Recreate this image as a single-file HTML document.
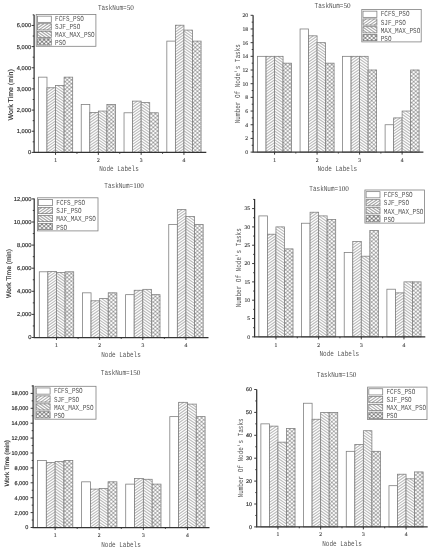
<!DOCTYPE html><html><head><meta charset="utf-8"><title>Figure</title><style>html,body{margin:0;padding:0;background:#fff}svg{display:block}text{fill:#2a2a2a;text-rendering:geometricPrecision}.m{fill:#555}.d{fill:#444;stroke:#444;stroke-width:.13px}.e{fill:#484848}.s{font-family:"Liberation Serif",serif}.a{font-family:"Liberation Sans",sans-serif;stroke:#2a2a2a;stroke-width:.16px}.m{font-family:"Liberation Mono",monospace}</style></head><body>
<svg width="431" height="550" viewBox="0 0 431 550">
<rect width="431" height="550" fill="#fff"/>
<g>
<rect x="38.43" y="77.16" width="8.56" height="75.24" fill="#fff"/>
<rect x="38.43" y="77.16" width="8.56" height="75.24" fill="none" stroke="#808080" stroke-width="0.8"/>
<rect x="46.99" y="87.76" width="8.56" height="64.64" fill="#fff"/>
<path d="M47.0,89.9L50.0,87.8M47.0,92.7L54.1,87.8M47.0,95.6L55.5,89.6M47.0,98.4L55.5,92.5M47.0,101.3L55.5,95.3M47.0,104.1L55.5,98.2M47.0,107.0L55.5,101.0M47.0,109.8L55.5,103.9M47.0,112.7L55.5,106.7M47.0,115.5L55.5,109.6M47.0,118.4L55.5,112.4M47.0,121.2L55.5,115.3M47.0,124.1L55.5,118.1M47.0,126.9L55.5,121.0M47.0,129.8L55.5,123.8M47.0,132.6L55.5,126.7M47.0,135.5L55.5,129.5M47.0,138.3L55.5,132.4M47.0,141.2L55.5,135.2M47.0,144.0L55.5,138.1M47.0,146.9L55.5,140.9M47.0,149.7L55.5,143.8M47.3,152.4L55.5,146.6M51.4,152.4L55.5,149.5M55.5,152.4L55.5,152.3" fill="none" stroke="#000" stroke-opacity="0.27" stroke-width="1.15"/>
<rect x="46.99" y="87.76" width="8.56" height="64.64" fill="none" stroke="#808080" stroke-width="0.8"/>
<rect x="55.55" y="85.43" width="8.56" height="66.97" fill="#fff"/>
<path d="M55.5,149.8L59.3,152.4M55.5,146.9L63.4,152.4M55.5,144.1L64.1,150.0M55.5,141.2L64.1,147.2M55.5,138.4L64.1,144.3M55.5,135.5L64.1,141.5M55.5,132.7L64.1,138.6M55.5,129.8L64.1,135.8M55.5,127.0L64.1,132.9M55.5,124.1L64.1,130.1M55.5,121.3L64.1,127.2M55.5,118.4L64.1,124.4M55.5,115.6L64.1,121.5M55.5,112.7L64.1,118.7M55.5,109.9L64.1,115.8M55.5,107.0L64.1,113.0M55.5,104.2L64.1,110.1M55.5,101.3L64.1,107.3M55.5,98.5L64.1,104.4M55.5,95.6L64.1,101.6M55.5,92.8L64.1,98.7M55.5,89.9L64.1,95.9M55.5,87.1L64.1,93.0M57.3,85.4L64.1,90.2M61.4,85.4L64.1,87.3" fill="none" stroke="#000" stroke-opacity="0.27" stroke-width="1.15"/>
<rect x="55.55" y="85.43" width="8.56" height="66.97" fill="none" stroke="#808080" stroke-width="0.8"/>
<rect x="64.11" y="77.16" width="8.56" height="75.24" fill="#fff"/>
<path d="M64.1,78.8L65.9,77.2M64.1,82.6L70.1,77.2M64.1,86.4L72.7,78.7M64.1,90.2L72.7,82.5M64.1,94.0L72.7,86.3M64.1,97.8L72.7,90.1M64.1,101.6L72.7,93.9M64.1,105.4L72.7,97.7M64.1,109.2L72.7,101.5M64.1,113.0L72.7,105.3M64.1,116.8L72.7,109.1M64.1,120.6L72.7,112.9M64.1,124.4L72.7,116.7M64.1,128.2L72.7,120.5M64.1,132.0L72.7,124.3M64.1,135.8L72.7,128.1M64.1,139.6L72.7,131.9M64.1,143.4L72.7,135.7M64.1,147.2L72.7,139.5M64.1,151.0L72.7,143.3M66.8,152.4L72.7,147.1M71.0,152.4L72.7,150.9" fill="none" stroke="#000" stroke-opacity="0.235" stroke-width="1.15"/><path d="M64.1,149.2L67.6,152.4M64.1,145.4L71.8,152.4M64.1,141.6L72.7,149.3M64.1,137.8L72.7,145.5M64.1,134.0L72.7,141.7M64.1,130.2L72.7,137.9M64.1,126.4L72.7,134.1M64.1,122.6L72.7,130.3M64.1,118.8L72.7,126.5M64.1,115.0L72.7,122.7M64.1,111.2L72.7,118.9M64.1,107.4L72.7,115.1M64.1,103.6L72.7,111.3M64.1,99.8L72.7,107.5M64.1,96.0L72.7,103.7M64.1,92.2L72.7,99.9M64.1,88.4L72.7,96.1M64.1,84.6L72.7,92.3M64.1,80.8L72.7,88.5M64.3,77.2L72.7,84.7M68.5,77.2L72.7,80.9" fill="none" stroke="#000" stroke-opacity="0.235" stroke-width="1.15"/>
<rect x="64.11" y="77.16" width="8.56" height="75.24" fill="none" stroke="#808080" stroke-width="0.8"/>
<rect x="81.23" y="104.51" width="8.56" height="47.89" fill="#fff"/>
<rect x="81.23" y="104.51" width="8.56" height="47.89" fill="none" stroke="#808080" stroke-width="0.8"/>
<rect x="89.79" y="112.57" width="8.56" height="39.83" fill="#fff"/>
<path d="M89.8,114.3L92.3,112.6M89.8,117.1L96.4,112.6M89.8,120.0L98.3,114.0M89.8,122.8L98.3,116.9M89.8,125.7L98.3,119.7M89.8,128.5L98.3,122.6M89.8,131.4L98.3,125.4M89.8,134.2L98.3,128.3M89.8,137.1L98.3,131.1M89.8,139.9L98.3,134.0M89.8,142.8L98.3,136.8M89.8,145.6L98.3,139.7M89.8,148.5L98.3,142.5M89.8,151.3L98.3,145.4M92.4,152.4L98.3,148.2M96.5,152.4L98.3,151.1" fill="none" stroke="#000" stroke-opacity="0.27" stroke-width="1.15"/>
<rect x="89.79" y="112.57" width="8.56" height="39.83" fill="none" stroke="#808080" stroke-width="0.8"/>
<rect x="98.35" y="111.08" width="8.56" height="41.32" fill="#fff"/>
<path d="M98.3,151.0L100.3,152.4M98.3,148.2L104.4,152.4M98.3,145.3L106.9,151.3M98.3,142.5L106.9,148.4M98.3,139.6L106.9,145.6M98.3,136.8L106.9,142.7M98.3,133.9L106.9,139.9M98.3,131.1L106.9,137.0M98.3,128.2L106.9,134.2M98.3,125.4L106.9,131.3M98.3,122.5L106.9,128.5M98.3,119.7L106.9,125.6M98.3,116.8L106.9,122.8M98.3,114.0L106.9,119.9M98.3,111.1L106.9,117.1M102.4,111.1L106.9,114.2M106.5,111.1L106.9,111.4" fill="none" stroke="#000" stroke-opacity="0.27" stroke-width="1.15"/>
<rect x="98.35" y="111.08" width="8.56" height="41.32" fill="none" stroke="#808080" stroke-width="0.8"/>
<rect x="106.91" y="104.51" width="8.56" height="47.89" fill="#fff"/>
<path d="M106.9,104.7L107.1,104.5M106.9,108.5L111.3,104.5M106.9,112.3L115.5,104.5M106.9,116.1L115.5,108.3M106.9,119.9L115.5,112.1M106.9,123.7L115.5,115.9M106.9,127.5L115.5,119.7M106.9,131.3L115.5,123.5M106.9,135.1L115.5,127.3M106.9,138.9L115.5,131.1M106.9,142.7L115.5,134.9M106.9,146.5L115.5,138.7M106.9,150.3L115.5,142.5M108.8,152.4L115.5,146.3M113.0,152.4L115.5,150.1" fill="none" stroke="#000" stroke-opacity="0.235" stroke-width="1.15"/><path d="M106.9,149.9L109.6,152.4M106.9,146.1L113.8,152.4M106.9,142.3L115.5,150.1M106.9,138.5L115.5,146.3M106.9,134.7L115.5,142.5M106.9,130.9L115.5,138.7M106.9,127.1L115.5,134.9M106.9,123.3L115.5,131.1M106.9,119.5L115.5,127.3M106.9,115.7L115.5,123.5M106.9,111.9L115.5,119.7M106.9,108.1L115.5,115.9M107.1,104.5L115.5,112.1M111.3,104.5L115.5,108.3" fill="none" stroke="#000" stroke-opacity="0.235" stroke-width="1.15"/>
<rect x="106.91" y="104.51" width="8.56" height="47.89" fill="none" stroke="#808080" stroke-width="0.8"/>
<rect x="124.03" y="112.78" width="8.56" height="39.62" fill="#fff"/>
<rect x="124.03" y="112.78" width="8.56" height="39.62" fill="none" stroke="#808080" stroke-width="0.8"/>
<rect x="132.59" y="101.12" width="8.56" height="51.28" fill="#fff"/>
<path d="M132.6,101.6L133.3,101.1M132.6,104.5L137.4,101.1M132.6,107.3L141.1,101.4M132.6,110.2L141.1,104.2M132.6,113.0L141.1,107.1M132.6,115.9L141.1,109.9M132.6,118.7L141.1,112.8M132.6,121.6L141.1,115.6M132.6,124.4L141.1,118.5M132.6,127.3L141.1,121.3M132.6,130.1L141.1,124.2M132.6,133.0L141.1,127.0M132.6,135.8L141.1,129.9M132.6,138.7L141.1,132.7M132.6,141.5L141.1,135.6M132.6,144.4L141.1,138.4M132.6,147.2L141.1,141.3M132.6,150.1L141.1,144.1M133.4,152.4L141.1,147.0M137.5,152.4L141.1,149.8" fill="none" stroke="#000" stroke-opacity="0.27" stroke-width="1.15"/>
<rect x="132.59" y="101.12" width="8.56" height="51.28" fill="none" stroke="#808080" stroke-width="0.8"/>
<rect x="141.15" y="102.60" width="8.56" height="49.80" fill="#fff"/>
<path d="M141.1,152.3L141.3,152.4M141.1,149.4L145.4,152.4M141.1,146.6L149.5,152.4M141.1,143.7L149.7,149.7M141.1,140.9L149.7,146.8M141.1,138.0L149.7,144.0M141.1,135.2L149.7,141.1M141.1,132.3L149.7,138.3M141.1,129.5L149.7,135.4M141.1,126.6L149.7,132.6M141.1,123.8L149.7,129.7M141.1,120.9L149.7,126.9M141.1,118.1L149.7,124.0M141.1,115.2L149.7,121.2M141.1,112.4L149.7,118.3M141.1,109.5L149.7,115.5M141.1,106.7L149.7,112.6M141.1,103.8L149.7,109.8M143.5,102.6L149.7,106.9M147.6,102.6L149.7,104.1" fill="none" stroke="#000" stroke-opacity="0.27" stroke-width="1.15"/>
<rect x="141.15" y="102.60" width="8.56" height="49.80" fill="none" stroke="#808080" stroke-width="0.8"/>
<rect x="149.71" y="112.78" width="8.56" height="39.62" fill="#fff"/>
<path d="M149.7,115.3L152.5,112.8M149.7,119.1L156.7,112.8M149.7,122.9L158.3,115.2M149.7,126.7L158.3,119.0M149.7,130.5L158.3,122.8M149.7,134.3L158.3,126.6M149.7,138.1L158.3,130.4M149.7,141.9L158.3,134.2M149.7,145.7L158.3,138.0M149.7,149.5L158.3,141.8M150.8,152.4L158.3,145.6M155.0,152.4L158.3,149.4" fill="none" stroke="#000" stroke-opacity="0.235" stroke-width="1.15"/><path d="M149.7,150.7L151.6,152.4M149.7,146.9L155.8,152.4M149.7,143.1L158.3,150.8M149.7,139.3L158.3,147.0M149.7,135.5L158.3,143.2M149.7,131.7L158.3,139.4M149.7,127.9L158.3,135.6M149.7,124.1L158.3,131.8M149.7,120.3L158.3,128.0M149.7,116.5L158.3,124.2M149.9,112.8L158.3,120.4M154.1,112.8L158.3,116.6" fill="none" stroke="#000" stroke-opacity="0.235" stroke-width="1.15"/>
<rect x="149.71" y="112.78" width="8.56" height="39.62" fill="none" stroke="#808080" stroke-width="0.8"/>
<rect x="166.83" y="41.12" width="8.56" height="111.28" fill="#fff"/>
<rect x="166.83" y="41.12" width="8.56" height="111.28" fill="none" stroke="#808080" stroke-width="0.8"/>
<rect x="175.39" y="25.22" width="8.56" height="127.18" fill="#fff"/>
<path d="M175.4,26.3L176.9,25.2M175.4,29.1L181.0,25.2M175.4,32.0L183.9,26.0M175.4,34.8L183.9,28.9M175.4,37.7L183.9,31.7M175.4,40.5L183.9,34.6M175.4,43.4L183.9,37.4M175.4,46.2L183.9,40.3M175.4,49.1L183.9,43.1M175.4,51.9L183.9,46.0M175.4,54.8L183.9,48.8M175.4,57.6L183.9,51.7M175.4,60.5L183.9,54.5M175.4,63.3L183.9,57.4M175.4,66.2L183.9,60.2M175.4,69.0L183.9,63.1M175.4,71.9L183.9,65.9M175.4,74.7L183.9,68.8M175.4,77.6L183.9,71.6M175.4,80.4L183.9,74.5M175.4,83.3L183.9,77.3M175.4,86.1L183.9,80.2M175.4,89.0L183.9,83.0M175.4,91.8L183.9,85.9M175.4,94.7L183.9,88.7M175.4,97.5L183.9,91.6M175.4,100.4L183.9,94.4M175.4,103.2L183.9,97.3M175.4,106.1L183.9,100.1M175.4,108.9L183.9,103.0M175.4,111.8L183.9,105.8M175.4,114.6L183.9,108.7M175.4,117.5L183.9,111.5M175.4,120.3L183.9,114.4M175.4,123.2L183.9,117.2M175.4,126.0L183.9,120.1M175.4,128.9L183.9,122.9M175.4,131.7L183.9,125.8M175.4,134.6L183.9,128.6M175.4,137.4L183.9,131.5M175.4,140.3L183.9,134.3M175.4,143.1L183.9,137.2M175.4,146.0L183.9,140.0M175.4,148.8L183.9,142.9M175.4,151.7L183.9,145.7M178.5,152.4L183.9,148.6M182.6,152.4L183.9,151.4" fill="none" stroke="#000" stroke-opacity="0.27" stroke-width="1.15"/>
<rect x="175.39" y="25.22" width="8.56" height="127.18" fill="none" stroke="#808080" stroke-width="0.8"/>
<rect x="183.95" y="30.10" width="8.56" height="122.30" fill="#fff"/>
<path d="M183.9,150.7L186.4,152.4M183.9,147.8L190.5,152.4M183.9,145.0L192.5,150.9M183.9,142.1L192.5,148.1M183.9,139.3L192.5,145.2M183.9,136.4L192.5,142.4M183.9,133.6L192.5,139.5M183.9,130.7L192.5,136.7M183.9,127.9L192.5,133.8M183.9,125.0L192.5,131.0M183.9,122.2L192.5,128.1M183.9,119.3L192.5,125.3M183.9,116.5L192.5,122.4M183.9,113.6L192.5,119.6M183.9,110.8L192.5,116.7M183.9,107.9L192.5,113.9M183.9,105.1L192.5,111.0M183.9,102.2L192.5,108.2M183.9,99.4L192.5,105.3M183.9,96.5L192.5,102.5M183.9,93.7L192.5,99.6M183.9,90.8L192.5,96.8M183.9,88.0L192.5,93.9M183.9,85.1L192.5,91.1M183.9,82.3L192.5,88.2M183.9,79.4L192.5,85.4M183.9,76.6L192.5,82.5M183.9,73.7L192.5,79.7M183.9,70.9L192.5,76.8M183.9,68.0L192.5,74.0M183.9,65.2L192.5,71.1M183.9,62.3L192.5,68.3M183.9,59.5L192.5,65.4M183.9,56.6L192.5,62.6M183.9,53.8L192.5,59.7M183.9,50.9L192.5,56.9M183.9,48.1L192.5,54.0M183.9,45.2L192.5,51.2M183.9,42.4L192.5,48.3M183.9,39.5L192.5,45.5M183.9,36.7L192.5,42.6M183.9,33.8L192.5,39.8M183.9,31.0L192.5,36.9M186.8,30.1L192.5,34.1M190.9,30.1L192.5,31.2" fill="none" stroke="#000" stroke-opacity="0.27" stroke-width="1.15"/>
<rect x="183.95" y="30.10" width="8.56" height="122.30" fill="none" stroke="#808080" stroke-width="0.8"/>
<rect x="192.51" y="41.12" width="8.56" height="111.28" fill="#fff"/>
<path d="M192.5,42.4L193.9,41.1M192.5,46.2L198.1,41.1M192.5,50.0L201.1,42.3M192.5,53.8L201.1,46.1M192.5,57.6L201.1,49.9M192.5,61.4L201.1,53.7M192.5,65.2L201.1,57.5M192.5,69.0L201.1,61.3M192.5,72.8L201.1,65.1M192.5,76.6L201.1,68.9M192.5,80.4L201.1,72.7M192.5,84.2L201.1,76.5M192.5,88.0L201.1,80.3M192.5,91.8L201.1,84.1M192.5,95.6L201.1,87.9M192.5,99.4L201.1,91.7M192.5,103.2L201.1,95.5M192.5,107.0L201.1,99.3M192.5,110.8L201.1,103.1M192.5,114.6L201.1,106.9M192.5,118.4L201.1,110.7M192.5,122.2L201.1,114.5M192.5,126.0L201.1,118.3M192.5,129.8L201.1,122.1M192.5,133.6L201.1,125.9M192.5,137.4L201.1,129.7M192.5,141.2L201.1,133.5M192.5,145.0L201.1,137.3M192.5,148.8L201.1,141.1M192.8,152.4L201.1,144.9M197.0,152.4L201.1,148.7" fill="none" stroke="#000" stroke-opacity="0.235" stroke-width="1.15"/><path d="M192.5,151.4L193.6,152.4M192.5,147.6L197.8,152.4M192.5,143.8L201.1,151.5M192.5,140.0L201.1,147.7M192.5,136.2L201.1,143.9M192.5,132.4L201.1,140.1M192.5,128.6L201.1,136.3M192.5,124.8L201.1,132.5M192.5,121.0L201.1,128.7M192.5,117.2L201.1,124.9M192.5,113.4L201.1,121.1M192.5,109.6L201.1,117.3M192.5,105.8L201.1,113.5M192.5,102.0L201.1,109.7M192.5,98.2L201.1,105.9M192.5,94.4L201.1,102.1M192.5,90.6L201.1,98.3M192.5,86.8L201.1,94.5M192.5,83.0L201.1,90.7M192.5,79.2L201.1,86.9M192.5,75.4L201.1,83.1M192.5,71.6L201.1,79.3M192.5,67.8L201.1,75.5M192.5,64.0L201.1,71.7M192.5,60.2L201.1,67.9M192.5,56.4L201.1,64.1M192.5,52.6L201.1,60.3M192.5,48.8L201.1,56.5M192.5,45.0L201.1,52.7M192.5,41.2L201.1,48.9M196.7,41.1L201.1,45.1M200.9,41.1L201.1,41.3" fill="none" stroke="#000" stroke-opacity="0.235" stroke-width="1.15"/>
<rect x="192.51" y="41.12" width="8.56" height="111.28" fill="none" stroke="#808080" stroke-width="0.8"/>
<path d="M34.10,14.80 V152.40 H206.30" fill="none" stroke="#333" stroke-width="1.25"/>
<path d="M31.60,152.40 H34.10 M32.70,141.82 H34.10 M31.60,131.24 H34.10 M32.70,120.66 H34.10 M31.60,110.08 H34.10 M32.70,99.50 H34.10 M31.60,88.92 H34.10 M32.70,78.34 H34.10 M31.60,67.76 H34.10 M32.70,57.18 H34.10 M31.60,46.60 H34.10 M32.70,36.02 H34.10 M31.60,25.44 H34.10 M32.70,14.86 H34.10 M55.55,152.40 V154.90 M76.95,152.40 V153.80 M98.35,152.40 V154.90 M119.75,152.40 V153.80 M141.15,152.40 V154.90 M162.55,152.40 V153.80 M183.95,152.40 V154.90" fill="none" stroke="#333" stroke-width="0.95"/>
<text class="a" x="31.10" y="154.35" font-size="5.7" text-anchor="end">0</text>
<text class="a" x="31.10" y="133.19" font-size="5.7" text-anchor="end">1,000</text>
<text class="a" x="31.10" y="112.03" font-size="5.7" text-anchor="end">2,000</text>
<text class="a" x="31.10" y="90.87" font-size="5.7" text-anchor="end">3,000</text>
<text class="a" x="31.10" y="69.71" font-size="5.7" text-anchor="end">4,000</text>
<text class="a" x="31.10" y="48.55" font-size="5.7" text-anchor="end">5,000</text>
<text class="a" x="31.10" y="27.39" font-size="5.7" text-anchor="end">6,000</text>
<text class="s d" x="54.15" y="161.60" font-size="5.60">1</text>
<text class="s d" x="96.95" y="161.60" font-size="5.60">2</text>
<text class="s d" x="139.75" y="161.60" font-size="5.60">3</text>
<text class="s d" x="182.55" y="161.60" font-size="5.60">4</text>
<text x="99.20" y="170.70"><tspan class="m" font-size="7.70" textLength="39.60" lengthAdjust="spacingAndGlyphs">Node Labels</tspan></text>
<text x="97.90" y="9.60"><tspan class="m" font-size="7.70" textLength="28.80" lengthAdjust="spacingAndGlyphs">TaskNum=</tspan><tspan class="s e" font-size="7.20">50</tspan></text>
<text class="a" transform="translate(13.20,94.80) rotate(-90)" font-size="7.0" text-anchor="middle">Work Time (min)</text>
<rect x="36.20" y="14.50" width="59.70" height="31.80" fill="#fff" stroke="#808080" stroke-width="0.8"/>
<rect x="37.40" y="16.15" width="13.9" height="6.20" fill="#fff"/>

<rect x="37.40" y="16.15" width="13.9" height="6.20" fill="none" stroke="#7a7a7a" stroke-width="0.75"/>
<text x="55.10" y="21.38"><tspan class="m" font-size="7.70" textLength="28.80" lengthAdjust="spacingAndGlyphs">FCFS_PSO</tspan></text>
<rect x="37.40" y="23.72" width="13.9" height="6.20" fill="#fff"/>
<path d="M37.4,25.3L39.7,23.7M37.4,28.2L43.8,23.7M39.0,29.9L47.9,23.7M43.1,29.9L51.3,24.2M47.2,29.9L51.3,27.0M51.3,29.9L51.3,29.9" fill="none" stroke="#000" stroke-opacity="0.34" stroke-width="1.15"/>
<rect x="37.40" y="23.72" width="13.9" height="6.20" fill="none" stroke="#7a7a7a" stroke-width="0.75"/>
<text x="55.10" y="29.32"><tspan class="m" font-size="7.70" textLength="25.20" lengthAdjust="spacingAndGlyphs">SJF_PSO</tspan></text>
<rect x="37.40" y="31.28" width="13.9" height="6.20" fill="#fff"/>
<path d="M37.4,37.4L37.5,37.5M37.4,34.5L41.6,37.5M37.4,31.7L45.7,37.5M40.9,31.3L49.8,37.5M45.0,31.3L51.3,35.7M49.1,31.3L51.3,32.8" fill="none" stroke="#000" stroke-opacity="0.34" stroke-width="1.15"/>
<rect x="37.40" y="31.28" width="13.9" height="6.20" fill="none" stroke="#7a7a7a" stroke-width="0.75"/>
<text x="55.10" y="37.27"><tspan class="m" font-size="7.70" textLength="39.60" lengthAdjust="spacingAndGlyphs">MAX_MAX_PSO</tspan></text>
<rect x="37.40" y="38.85" width="13.9" height="6.20" fill="#fff"/>
<path d="M37.4,42.2L41.1,38.8M38.4,45.0L45.3,38.8M42.6,45.0L49.5,38.8M46.8,45.0L51.3,41.0M51.0,45.0L51.3,44.8" fill="none" stroke="#000" stroke-opacity="0.34" stroke-width="1.15"/><path d="M37.4,41.4L41.4,45.0M38.7,38.8L45.6,45.0M42.9,38.8L49.8,45.0M47.1,38.8L51.3,42.6" fill="none" stroke="#000" stroke-opacity="0.34" stroke-width="1.15"/>
<rect x="37.40" y="38.85" width="13.9" height="6.20" fill="none" stroke="#7a7a7a" stroke-width="0.75"/>
<text x="55.10" y="45.22"><tspan class="m" font-size="7.70" textLength="10.80" lengthAdjust="spacingAndGlyphs">PSO</tspan></text>
</g>
<g>
<rect x="257.55" y="56.34" width="8.50" height="95.76" fill="#fff"/>
<rect x="257.55" y="56.34" width="8.50" height="95.76" fill="none" stroke="#808080" stroke-width="0.8"/>
<rect x="266.06" y="56.34" width="8.50" height="95.76" fill="#fff"/>
<path d="M266.1,57.3L267.4,56.3M266.1,60.2L271.5,56.3M266.1,63.0L274.6,57.1M266.1,65.9L274.6,59.9M266.1,68.7L274.6,62.8M266.1,71.6L274.6,65.6M266.1,74.4L274.6,68.5M266.1,77.3L274.6,71.3M266.1,80.1L274.6,74.2M266.1,83.0L274.6,77.0M266.1,85.8L274.6,79.9M266.1,88.7L274.6,82.7M266.1,91.5L274.6,85.6M266.1,94.4L274.6,88.4M266.1,97.2L274.6,91.3M266.1,100.1L274.6,94.1M266.1,102.9L274.6,97.0M266.1,105.8L274.6,99.8M266.1,108.6L274.6,102.7M266.1,111.5L274.6,105.5M266.1,114.3L274.6,108.4M266.1,117.2L274.6,111.2M266.1,120.0L274.6,114.1M266.1,122.9L274.6,116.9M266.1,125.7L274.6,119.8M266.1,128.6L274.6,122.6M266.1,131.4L274.6,125.5M266.1,134.3L274.6,128.3M266.1,137.1L274.6,131.2M266.1,140.0L274.6,134.0M266.1,142.8L274.6,136.9M266.1,145.7L274.6,139.7M266.1,148.5L274.6,142.6M266.1,151.4L274.6,145.4M269.1,152.1L274.6,148.3M273.2,152.1L274.6,151.1" fill="none" stroke="#000" stroke-opacity="0.27" stroke-width="1.15"/>
<rect x="266.06" y="56.34" width="8.50" height="95.76" fill="none" stroke="#808080" stroke-width="0.8"/>
<rect x="274.56" y="56.34" width="8.50" height="95.76" fill="#fff"/>
<path d="M274.6,151.0L276.2,152.1M274.6,148.1L280.3,152.1M274.6,145.3L283.1,151.2M274.6,142.4L283.1,148.3M274.6,139.6L283.1,145.5M274.6,136.7L283.1,142.6M274.6,133.9L283.1,139.8M274.6,131.0L283.1,136.9M274.6,128.2L283.1,134.1M274.6,125.3L283.1,131.2M274.6,122.5L283.1,128.4M274.6,119.6L283.1,125.5M274.6,116.8L283.1,122.7M274.6,113.9L283.1,119.8M274.6,111.1L283.1,117.0M274.6,108.2L283.1,114.1M274.6,105.4L283.1,111.3M274.6,102.5L283.1,108.4M274.6,99.7L283.1,105.6M274.6,96.8L283.1,102.7M274.6,94.0L283.1,99.9M274.6,91.1L283.1,97.0M274.6,88.3L283.1,94.2M274.6,85.4L283.1,91.3M274.6,82.6L283.1,88.5M274.6,79.7L283.1,85.6M274.6,76.9L283.1,82.8M274.6,74.0L283.1,79.9M274.6,71.2L283.1,77.1M274.6,68.3L283.1,74.2M274.6,65.5L283.1,71.4M274.6,62.6L283.1,68.5M274.6,59.8L283.1,65.7M274.6,56.9L283.1,62.8M277.9,56.3L283.1,60.0M282.0,56.3L283.1,57.1" fill="none" stroke="#000" stroke-opacity="0.27" stroke-width="1.15"/>
<rect x="274.56" y="56.34" width="8.50" height="95.76" fill="none" stroke="#808080" stroke-width="0.8"/>
<rect x="283.06" y="63.18" width="8.50" height="88.92" fill="#fff"/>
<path d="M283.1,66.9L287.2,63.2M283.1,70.7L291.4,63.2M283.1,74.5L291.6,66.8M283.1,78.3L291.6,70.6M283.1,82.1L291.6,74.4M283.1,85.9L291.6,78.2M283.1,89.7L291.6,82.0M283.1,93.5L291.6,85.8M283.1,97.3L291.6,89.6M283.1,101.1L291.6,93.4M283.1,104.9L291.6,97.2M283.1,108.7L291.6,101.0M283.1,112.5L291.6,104.8M283.1,116.3L291.6,108.6M283.1,120.1L291.6,112.4M283.1,123.9L291.6,116.2M283.1,127.7L291.6,120.0M283.1,131.5L291.6,123.8M283.1,135.3L291.6,127.6M283.1,139.1L291.6,131.4M283.1,142.9L291.6,135.2M283.1,146.7L291.6,139.0M283.1,150.5L291.6,142.8M285.5,152.1L291.6,146.6M289.7,152.1L291.6,150.4" fill="none" stroke="#000" stroke-opacity="0.235" stroke-width="1.15"/><path d="M283.1,149.7L285.7,152.1M283.1,145.9L289.9,152.1M283.1,142.1L291.6,149.8M283.1,138.3L291.6,146.0M283.1,134.5L291.6,142.2M283.1,130.7L291.6,138.4M283.1,126.9L291.6,134.6M283.1,123.1L291.6,130.8M283.1,119.3L291.6,127.0M283.1,115.5L291.6,123.2M283.1,111.7L291.6,119.4M283.1,107.9L291.6,115.6M283.1,104.1L291.6,111.8M283.1,100.3L291.6,108.0M283.1,96.5L291.6,104.2M283.1,92.7L291.6,100.4M283.1,88.9L291.6,96.6M283.1,85.1L291.6,92.8M283.1,81.3L291.6,89.0M283.1,77.5L291.6,85.2M283.1,73.7L291.6,81.4M283.1,69.9L291.6,77.6M283.1,66.1L291.6,73.8M284.0,63.2L291.6,70.0M288.2,63.2L291.6,66.2" fill="none" stroke="#000" stroke-opacity="0.235" stroke-width="1.15"/>
<rect x="283.06" y="63.18" width="8.50" height="88.92" fill="none" stroke="#808080" stroke-width="0.8"/>
<rect x="300.07" y="28.98" width="8.50" height="123.12" fill="#fff"/>
<rect x="300.07" y="28.98" width="8.50" height="123.12" fill="none" stroke="#808080" stroke-width="0.8"/>
<rect x="308.58" y="35.82" width="8.50" height="116.28" fill="#fff"/>
<path d="M308.6,36.3L309.3,35.8M308.6,39.2L313.4,35.8M308.6,42.0L317.1,36.1M308.6,44.9L317.1,38.9M308.6,47.7L317.1,41.8M308.6,50.6L317.1,44.6M308.6,53.4L317.1,47.5M308.6,56.3L317.1,50.3M308.6,59.1L317.1,53.2M308.6,62.0L317.1,56.0M308.6,64.8L317.1,58.9M308.6,67.7L317.1,61.7M308.6,70.5L317.1,64.6M308.6,73.4L317.1,67.4M308.6,76.2L317.1,70.3M308.6,79.1L317.1,73.1M308.6,81.9L317.1,76.0M308.6,84.8L317.1,78.8M308.6,87.6L317.1,81.7M308.6,90.5L317.1,84.5M308.6,93.3L317.1,87.4M308.6,96.2L317.1,90.2M308.6,99.0L317.1,93.1M308.6,101.9L317.1,95.9M308.6,104.7L317.1,98.8M308.6,107.6L317.1,101.6M308.6,110.4L317.1,104.5M308.6,113.3L317.1,107.3M308.6,116.1L317.1,110.2M308.6,119.0L317.1,113.0M308.6,121.8L317.1,115.9M308.6,124.7L317.1,118.7M308.6,127.5L317.1,121.6M308.6,130.4L317.1,124.4M308.6,133.2L317.1,127.3M308.6,136.1L317.1,130.1M308.6,138.9L317.1,133.0M308.6,141.8L317.1,135.8M308.6,144.6L317.1,138.7M308.6,147.5L317.1,141.5M308.6,150.3L317.1,144.4M310.1,152.1L317.1,147.2M314.2,152.1L317.1,150.1" fill="none" stroke="#000" stroke-opacity="0.27" stroke-width="1.15"/>
<rect x="308.58" y="35.82" width="8.50" height="116.28" fill="none" stroke="#808080" stroke-width="0.8"/>
<rect x="317.08" y="42.66" width="8.50" height="109.44" fill="#fff"/>
<path d="M317.1,152.0L317.2,152.1M317.1,149.2L321.3,152.1M317.1,146.3L325.4,152.1M317.1,143.5L325.6,149.4M317.1,140.6L325.6,146.5M317.1,137.8L325.6,143.7M317.1,134.9L325.6,140.8M317.1,132.1L325.6,138.0M317.1,129.2L325.6,135.1M317.1,126.4L325.6,132.3M317.1,123.5L325.6,129.4M317.1,120.7L325.6,126.6M317.1,117.8L325.6,123.7M317.1,115.0L325.6,120.9M317.1,112.1L325.6,118.0M317.1,109.3L325.6,115.2M317.1,106.4L325.6,112.3M317.1,103.6L325.6,109.5M317.1,100.7L325.6,106.6M317.1,97.9L325.6,103.8M317.1,95.0L325.6,100.9M317.1,92.2L325.6,98.1M317.1,89.3L325.6,95.2M317.1,86.5L325.6,92.4M317.1,83.6L325.6,89.5M317.1,80.8L325.6,86.7M317.1,77.9L325.6,83.8M317.1,75.1L325.6,81.0M317.1,72.2L325.6,78.1M317.1,69.4L325.6,75.3M317.1,66.5L325.6,72.4M317.1,63.7L325.6,69.6M317.1,60.8L325.6,66.7M317.1,58.0L325.6,63.9M317.1,55.1L325.6,61.0M317.1,52.3L325.6,58.2M317.1,49.4L325.6,55.3M317.1,46.6L325.6,52.5M317.1,43.7L325.6,49.6M319.7,42.7L325.6,46.8M323.8,42.7L325.6,43.9" fill="none" stroke="#000" stroke-opacity="0.27" stroke-width="1.15"/>
<rect x="317.08" y="42.66" width="8.50" height="109.44" fill="none" stroke="#808080" stroke-width="0.8"/>
<rect x="325.58" y="63.18" width="8.50" height="88.92" fill="#fff"/>
<path d="M325.6,66.4L329.2,63.2M325.6,70.2L333.4,63.2M325.6,74.0L334.1,66.3M325.6,77.8L334.1,70.1M325.6,81.6L334.1,73.9M325.6,85.4L334.1,77.7M325.6,89.2L334.1,81.5M325.6,93.0L334.1,85.3M325.6,96.8L334.1,89.1M325.6,100.6L334.1,92.9M325.6,104.4L334.1,96.7M325.6,108.2L334.1,100.5M325.6,112.0L334.1,104.3M325.6,115.8L334.1,108.1M325.6,119.6L334.1,111.9M325.6,123.4L334.1,115.7M325.6,127.2L334.1,119.5M325.6,131.0L334.1,123.3M325.6,134.8L334.1,127.1M325.6,138.6L334.1,130.9M325.6,142.4L334.1,134.7M325.6,146.2L334.1,138.5M325.6,150.0L334.1,142.3M327.5,152.1L334.1,146.1M331.7,152.1L334.1,149.9" fill="none" stroke="#000" stroke-opacity="0.235" stroke-width="1.15"/><path d="M325.6,150.2L327.7,152.1M325.6,146.4L331.9,152.1M325.6,142.6L334.1,150.3M325.6,138.8L334.1,146.5M325.6,135.0L334.1,142.7M325.6,131.2L334.1,138.9M325.6,127.4L334.1,135.1M325.6,123.6L334.1,131.3M325.6,119.8L334.1,127.5M325.6,116.0L334.1,123.7M325.6,112.2L334.1,119.9M325.6,108.4L334.1,116.1M325.6,104.6L334.1,112.3M325.6,100.8L334.1,108.5M325.6,97.0L334.1,104.7M325.6,93.2L334.1,100.9M325.6,89.4L334.1,97.1M325.6,85.6L334.1,93.3M325.6,81.8L334.1,89.5M325.6,78.0L334.1,85.7M325.6,74.2L334.1,81.9M325.6,70.4L334.1,78.1M325.6,66.6L334.1,74.3M326.0,63.2L334.1,70.5M330.2,63.2L334.1,66.7" fill="none" stroke="#000" stroke-opacity="0.235" stroke-width="1.15"/>
<rect x="325.58" y="63.18" width="8.50" height="88.92" fill="none" stroke="#808080" stroke-width="0.8"/>
<rect x="342.59" y="56.34" width="8.50" height="95.76" fill="#fff"/>
<rect x="342.59" y="56.34" width="8.50" height="95.76" fill="none" stroke="#808080" stroke-width="0.8"/>
<rect x="351.10" y="56.34" width="8.50" height="95.76" fill="#fff"/>
<path d="M351.1,58.0L353.5,56.3M351.1,60.9L357.6,56.3M351.1,63.7L359.6,57.8M351.1,66.6L359.6,60.7M351.1,69.4L359.6,63.5M351.1,72.3L359.6,66.4M351.1,75.1L359.6,69.2M351.1,78.0L359.6,72.1M351.1,80.8L359.6,74.9M351.1,83.7L359.6,77.8M351.1,86.5L359.6,80.6M351.1,89.4L359.6,83.5M351.1,92.2L359.6,86.3M351.1,95.1L359.6,89.2M351.1,97.9L359.6,92.0M351.1,100.8L359.6,94.9M351.1,103.6L359.6,97.7M351.1,106.5L359.6,100.6M351.1,109.3L359.6,103.4M351.1,112.2L359.6,106.3M351.1,115.0L359.6,109.1M351.1,117.9L359.6,112.0M351.1,120.7L359.6,114.8M351.1,123.6L359.6,117.7M351.1,126.4L359.6,120.5M351.1,129.3L359.6,123.4M351.1,132.1L359.6,126.2M351.1,135.0L359.6,129.1M351.1,137.8L359.6,131.9M351.1,140.7L359.6,134.8M351.1,143.5L359.6,137.6M351.1,146.4L359.6,140.5M351.1,149.2L359.6,143.3M351.1,152.1L359.6,146.2M355.2,152.1L359.6,149.0M359.3,152.1L359.6,151.9" fill="none" stroke="#000" stroke-opacity="0.27" stroke-width="1.15"/>
<rect x="351.10" y="56.34" width="8.50" height="95.76" fill="none" stroke="#808080" stroke-width="0.8"/>
<rect x="359.60" y="56.34" width="8.50" height="95.76" fill="#fff"/>
<path d="M359.6,150.2L362.3,152.1M359.6,147.4L366.4,152.1M359.6,144.5L368.1,150.4M359.6,141.7L368.1,147.6M359.6,138.8L368.1,144.7M359.6,136.0L368.1,141.9M359.6,133.1L368.1,139.0M359.6,130.3L368.1,136.2M359.6,127.4L368.1,133.3M359.6,124.6L368.1,130.5M359.6,121.7L368.1,127.6M359.6,118.9L368.1,124.8M359.6,116.0L368.1,121.9M359.6,113.2L368.1,119.1M359.6,110.3L368.1,116.2M359.6,107.5L368.1,113.4M359.6,104.6L368.1,110.5M359.6,101.8L368.1,107.7M359.6,98.9L368.1,104.8M359.6,96.1L368.1,102.0M359.6,93.2L368.1,99.1M359.6,90.4L368.1,96.3M359.6,87.5L368.1,93.4M359.6,84.7L368.1,90.6M359.6,81.8L368.1,87.7M359.6,79.0L368.1,84.9M359.6,76.1L368.1,82.0M359.6,73.3L368.1,79.2M359.6,70.4L368.1,76.3M359.6,67.6L368.1,73.5M359.6,64.7L368.1,70.6M359.6,61.9L368.1,67.8M359.6,59.0L368.1,64.9M359.9,56.3L368.1,62.1M364.0,56.3L368.1,59.2M368.1,56.3L368.1,56.4" fill="none" stroke="#000" stroke-opacity="0.27" stroke-width="1.15"/>
<rect x="359.60" y="56.34" width="8.50" height="95.76" fill="none" stroke="#808080" stroke-width="0.8"/>
<rect x="368.10" y="70.02" width="8.50" height="82.08" fill="#fff"/>
<path d="M368.1,73.6L372.0,70.0M368.1,77.4L376.2,70.0M368.1,81.2L376.6,73.5M368.1,85.0L376.6,77.3M368.1,88.8L376.6,81.1M368.1,92.6L376.6,84.9M368.1,96.4L376.6,88.7M368.1,100.2L376.6,92.5M368.1,104.0L376.6,96.3M368.1,107.8L376.6,100.1M368.1,111.6L376.6,103.9M368.1,115.4L376.6,107.7M368.1,119.2L376.6,111.5M368.1,123.0L376.6,115.3M368.1,126.8L376.6,119.1M368.1,130.6L376.6,122.9M368.1,134.4L376.6,126.7M368.1,138.2L376.6,130.5M368.1,142.0L376.6,134.3M368.1,145.8L376.6,138.1M368.1,149.6L376.6,141.9M369.5,152.1L376.6,145.7M373.7,152.1L376.6,149.5" fill="none" stroke="#000" stroke-opacity="0.235" stroke-width="1.15"/><path d="M368.1,150.6L369.7,152.1M368.1,146.8L373.9,152.1M368.1,143.0L376.6,150.7M368.1,139.2L376.6,146.9M368.1,135.4L376.6,143.1M368.1,131.6L376.6,139.3M368.1,127.8L376.6,135.5M368.1,124.0L376.6,131.7M368.1,120.2L376.6,127.9M368.1,116.4L376.6,124.1M368.1,112.6L376.6,120.3M368.1,108.8L376.6,116.5M368.1,105.0L376.6,112.7M368.1,101.2L376.6,108.9M368.1,97.4L376.6,105.1M368.1,93.6L376.6,101.3M368.1,89.8L376.6,97.5M368.1,86.0L376.6,93.7M368.1,82.2L376.6,89.9M368.1,78.4L376.6,86.1M368.1,74.6L376.6,82.3M368.1,70.8L376.6,78.5M371.4,70.0L376.6,74.7M375.6,70.0L376.6,70.9" fill="none" stroke="#000" stroke-opacity="0.235" stroke-width="1.15"/>
<rect x="368.10" y="70.02" width="8.50" height="82.08" fill="none" stroke="#808080" stroke-width="0.8"/>
<rect x="385.11" y="124.74" width="8.50" height="27.36" fill="#fff"/>
<rect x="385.11" y="124.74" width="8.50" height="27.36" fill="none" stroke="#808080" stroke-width="0.8"/>
<rect x="393.62" y="117.90" width="8.50" height="34.20" fill="#fff"/>
<path d="M393.6,119.7L396.2,117.9M393.6,122.5L400.3,117.9M393.6,125.4L402.1,119.5M393.6,128.2L402.1,122.3M393.6,131.1L402.1,125.2M393.6,133.9L402.1,128.0M393.6,136.8L402.1,130.9M393.6,139.6L402.1,133.7M393.6,142.5L402.1,136.6M393.6,145.3L402.1,139.4M393.6,148.2L402.1,142.3M393.6,151.0L402.1,145.1M396.2,152.1L402.1,148.0M400.3,152.1L402.1,150.8" fill="none" stroke="#000" stroke-opacity="0.27" stroke-width="1.15"/>
<rect x="393.62" y="117.90" width="8.50" height="34.20" fill="none" stroke="#808080" stroke-width="0.8"/>
<rect x="402.12" y="111.06" width="8.50" height="41.04" fill="#fff"/>
<path d="M402.1,151.3L403.3,152.1M402.1,148.4L407.4,152.1M402.1,145.6L410.6,151.5M402.1,142.7L410.6,148.6M402.1,139.9L410.6,145.8M402.1,137.0L410.6,142.9M402.1,134.2L410.6,140.1M402.1,131.3L410.6,137.2M402.1,128.5L410.6,134.4M402.1,125.6L410.6,131.5M402.1,122.8L410.6,128.7M402.1,119.9L410.6,125.8M402.1,117.1L410.6,123.0M402.1,114.2L410.6,120.1M402.1,111.4L410.6,117.3M405.8,111.1L410.6,114.4M409.9,111.1L410.6,111.6" fill="none" stroke="#000" stroke-opacity="0.27" stroke-width="1.15"/>
<rect x="402.12" y="111.06" width="8.50" height="41.04" fill="none" stroke="#808080" stroke-width="0.8"/>
<rect x="410.62" y="70.02" width="8.50" height="82.08" fill="#fff"/>
<path d="M410.6,73.1L414.0,70.0M410.6,76.9L418.2,70.0M410.6,80.7L419.1,73.0M410.6,84.5L419.1,76.8M410.6,88.3L419.1,80.6M410.6,92.1L419.1,84.4M410.6,95.9L419.1,88.2M410.6,99.7L419.1,92.0M410.6,103.5L419.1,95.8M410.6,107.3L419.1,99.6M410.6,111.1L419.1,103.4M410.6,114.9L419.1,107.2M410.6,118.7L419.1,111.0M410.6,122.5L419.1,114.8M410.6,126.3L419.1,118.6M410.6,130.1L419.1,122.4M410.6,133.9L419.1,126.2M410.6,137.7L419.1,130.0M410.6,141.5L419.1,133.8M410.6,145.3L419.1,137.6M410.6,149.1L419.1,141.4M411.5,152.1L419.1,145.2M415.7,152.1L419.1,149.0" fill="none" stroke="#000" stroke-opacity="0.235" stroke-width="1.15"/><path d="M410.6,151.1L411.7,152.1M410.6,147.3L415.9,152.1M410.6,143.5L419.1,151.2M410.6,139.7L419.1,147.4M410.6,135.9L419.1,143.6M410.6,132.1L419.1,139.8M410.6,128.3L419.1,136.0M410.6,124.5L419.1,132.2M410.6,120.7L419.1,128.4M410.6,116.9L419.1,124.6M410.6,113.1L419.1,120.8M410.6,109.3L419.1,117.0M410.6,105.5L419.1,113.2M410.6,101.7L419.1,109.4M410.6,97.9L419.1,105.6M410.6,94.1L419.1,101.8M410.6,90.3L419.1,98.0M410.6,86.5L419.1,94.2M410.6,82.7L419.1,90.4M410.6,78.9L419.1,86.6M410.6,75.1L419.1,82.8M410.6,71.3L419.1,79.0M413.4,70.0L419.1,75.2M417.6,70.0L419.1,71.4" fill="none" stroke="#000" stroke-opacity="0.235" stroke-width="1.15"/>
<rect x="410.62" y="70.02" width="8.50" height="82.08" fill="none" stroke="#808080" stroke-width="0.8"/>
<path d="M253.10,15.30 V152.10 H423.40" fill="none" stroke="#333" stroke-width="1.25"/>
<path d="M250.60,152.10 H253.10 M251.70,145.26 H253.10 M250.60,138.42 H253.10 M251.70,131.58 H253.10 M250.60,124.74 H253.10 M251.70,117.90 H253.10 M250.60,111.06 H253.10 M251.70,104.22 H253.10 M250.60,97.38 H253.10 M251.70,90.54 H253.10 M250.60,83.70 H253.10 M251.70,76.86 H253.10 M250.60,70.02 H253.10 M251.70,63.18 H253.10 M250.60,56.34 H253.10 M251.70,49.50 H253.10 M250.60,42.66 H253.10 M251.70,35.82 H253.10 M250.60,28.98 H253.10 M251.70,22.14 H253.10 M250.60,15.30 H253.10 M274.56,152.10 V154.60 M295.82,152.10 V153.50 M317.08,152.10 V154.60 M338.34,152.10 V153.50 M359.60,152.10 V154.60 M380.86,152.10 V153.50 M402.12,152.10 V154.60" fill="none" stroke="#333" stroke-width="0.95"/>
<text class="s d" x="245.30" y="154.00" font-size="5.60">0</text>
<text class="s d" x="245.30" y="140.32" font-size="5.60">2</text>
<text class="s d" x="245.30" y="126.64" font-size="5.60">4</text>
<text class="s d" x="245.30" y="112.96" font-size="5.60">6</text>
<text class="s d" x="245.30" y="99.28" font-size="5.60">8</text>
<text class="s d" x="242.50" y="85.60" font-size="5.60">10</text>
<text class="s d" x="242.50" y="71.92" font-size="5.60">12</text>
<text class="s d" x="242.50" y="58.24" font-size="5.60">14</text>
<text class="s d" x="242.50" y="44.56" font-size="5.60">16</text>
<text class="s d" x="242.50" y="30.88" font-size="5.60">18</text>
<text class="s d" x="242.50" y="17.20" font-size="5.60">20</text>
<text class="s d" x="273.16" y="161.70" font-size="5.60">1</text>
<text class="s d" x="315.68" y="161.70" font-size="5.60">2</text>
<text class="s d" x="358.20" y="161.70" font-size="5.60">3</text>
<text class="s d" x="400.72" y="161.70" font-size="5.60">4</text>
<text x="317.50" y="170.70"><tspan class="m" font-size="7.70" textLength="39.60" lengthAdjust="spacingAndGlyphs">Node Labels</tspan></text>
<text x="314.60" y="7.50"><tspan class="m" font-size="7.70" textLength="28.80" lengthAdjust="spacingAndGlyphs">TaskNum=</tspan><tspan class="s e" font-size="7.20">50</tspan></text>
<text class="m" transform="translate(239.80,83.70) rotate(-90) scale(0.7792,1)" font-size="7.70" text-anchor="middle">Number Of Node&#39;s Tasks</text>
<rect x="361.80" y="9.50" width="59.40" height="32.40" fill="#fff" stroke="#808080" stroke-width="0.8"/>
<rect x="363.00" y="11.15" width="13.9" height="6.20" fill="#fff"/>

<rect x="363.00" y="11.15" width="13.9" height="6.20" fill="none" stroke="#7a7a7a" stroke-width="0.75"/>
<text x="380.70" y="16.45"><tspan class="m" font-size="7.70" textLength="28.80" lengthAdjust="spacingAndGlyphs">FCFS_PSO</tspan></text>
<rect x="363.00" y="18.92" width="13.9" height="6.20" fill="#fff"/>
<path d="M363.0,21.3L366.4,18.9M363.0,24.1L370.5,18.9M365.7,25.1L374.6,18.9M369.8,25.1L376.9,20.2M373.9,25.1L376.9,23.0" fill="none" stroke="#000" stroke-opacity="0.34" stroke-width="1.15"/>
<rect x="363.00" y="18.92" width="13.9" height="6.20" fill="none" stroke="#7a7a7a" stroke-width="0.75"/>
<text x="380.70" y="24.55"><tspan class="m" font-size="7.70" textLength="25.20" lengthAdjust="spacingAndGlyphs">SJF_PSO</tspan></text>
<rect x="363.00" y="26.68" width="13.9" height="6.20" fill="#fff"/>
<path d="M363.0,30.0L367.1,32.9M363.0,27.2L371.2,32.9M366.4,26.7L375.3,32.9M370.5,26.7L376.9,31.1M374.6,26.7L376.9,28.3" fill="none" stroke="#000" stroke-opacity="0.34" stroke-width="1.15"/>
<rect x="363.00" y="26.68" width="13.9" height="6.20" fill="none" stroke="#7a7a7a" stroke-width="0.75"/>
<text x="380.70" y="32.65"><tspan class="m" font-size="7.70" textLength="39.60" lengthAdjust="spacingAndGlyphs">MAX_MAX_PSO</tspan></text>
<rect x="363.00" y="34.45" width="13.9" height="6.20" fill="#fff"/>
<path d="M363.0,36.4L365.1,34.4M363.0,40.2L369.3,34.4M366.7,40.6L373.5,34.4M370.9,40.6L376.9,35.2M375.1,40.6L376.9,39.0" fill="none" stroke="#000" stroke-opacity="0.34" stroke-width="1.15"/><path d="M363.0,39.6L364.1,40.6M363.0,35.8L368.3,40.6M365.7,34.4L372.5,40.6M369.9,34.4L376.7,40.6M374.1,34.4L376.9,37.0" fill="none" stroke="#000" stroke-opacity="0.34" stroke-width="1.15"/>
<rect x="363.00" y="34.45" width="13.9" height="6.20" fill="none" stroke="#7a7a7a" stroke-width="0.75"/>
<text x="380.70" y="40.75"><tspan class="m" font-size="7.70" textLength="10.80" lengthAdjust="spacingAndGlyphs">PSO</tspan></text>
</g>
<g>
<rect x="39.30" y="271.80" width="8.60" height="65.70" fill="#fff"/>
<rect x="39.30" y="271.80" width="8.60" height="65.70" fill="none" stroke="#808080" stroke-width="0.8"/>
<rect x="47.90" y="271.56" width="8.60" height="65.94" fill="#fff"/>
<path d="M47.9,271.7L48.0,271.6M47.9,274.5L52.1,271.6M47.9,277.4L56.2,271.6M47.9,280.2L56.5,274.2M47.9,283.1L56.5,277.1M47.9,285.9L56.5,279.9M47.9,288.8L56.5,282.8M47.9,291.6L56.5,285.6M47.9,294.5L56.5,288.5M47.9,297.3L56.5,291.3M47.9,300.2L56.5,294.2M47.9,303.0L56.5,297.0M47.9,305.9L56.5,299.9M47.9,308.7L56.5,302.7M47.9,311.6L56.5,305.6M47.9,314.4L56.5,308.4M47.9,317.3L56.5,311.3M47.9,320.1L56.5,314.1M47.9,323.0L56.5,317.0M47.9,325.8L56.5,319.8M47.9,328.7L56.5,322.7M47.9,331.5L56.5,325.5M47.9,334.4L56.5,328.4M47.9,337.2L56.5,331.2M51.6,337.5L56.5,334.1M55.7,337.5L56.5,336.9" fill="none" stroke="#000" stroke-opacity="0.27" stroke-width="1.15"/>
<rect x="47.90" y="271.56" width="8.60" height="65.94" fill="none" stroke="#808080" stroke-width="0.8"/>
<rect x="56.50" y="272.49" width="8.60" height="65.01" fill="#fff"/>
<path d="M56.5,335.7L59.1,337.5M56.5,332.8L63.2,337.5M56.5,330.0L65.1,336.0M56.5,327.1L65.1,333.1M56.5,324.3L65.1,330.3M56.5,321.4L65.1,327.4M56.5,318.6L65.1,324.6M56.5,315.7L65.1,321.7M56.5,312.9L65.1,318.9M56.5,310.0L65.1,316.0M56.5,307.2L65.1,313.2M56.5,304.3L65.1,310.3M56.5,301.5L65.1,307.5M56.5,298.6L65.1,304.6M56.5,295.8L65.1,301.8M56.5,292.9L65.1,298.9M56.5,290.1L65.1,296.1M56.5,287.2L65.1,293.2M56.5,284.4L65.1,290.4M56.5,281.5L65.1,287.5M56.5,278.7L65.1,284.7M56.5,275.8L65.1,281.8M56.5,273.0L65.1,279.0M59.9,272.5L65.1,276.1M64.0,272.5L65.1,273.3" fill="none" stroke="#000" stroke-opacity="0.27" stroke-width="1.15"/>
<rect x="56.50" y="272.49" width="8.60" height="65.01" fill="none" stroke="#808080" stroke-width="0.8"/>
<rect x="65.10" y="271.80" width="8.60" height="65.70" fill="#fff"/>
<path d="M65.1,275.5L69.2,271.8M65.1,279.3L73.4,271.8M65.1,283.1L73.7,275.3M65.1,286.9L73.7,279.1M65.1,290.7L73.7,282.9M65.1,294.5L73.7,286.7M65.1,298.3L73.7,290.5M65.1,302.1L73.7,294.3M65.1,305.9L73.7,298.1M65.1,309.7L73.7,301.9M65.1,313.5L73.7,305.7M65.1,317.3L73.7,309.5M65.1,321.1L73.7,313.3M65.1,324.9L73.7,317.1M65.1,328.7L73.7,320.9M65.1,332.5L73.7,324.7M65.1,336.3L73.7,328.5M68.0,337.5L73.7,332.3M72.2,337.5L73.7,336.1" fill="none" stroke="#000" stroke-opacity="0.235" stroke-width="1.15"/><path d="M65.1,336.3L66.4,337.5M65.1,332.5L70.6,337.5M65.1,328.7L73.7,336.5M65.1,324.9L73.7,332.7M65.1,321.1L73.7,328.9M65.1,317.3L73.7,325.1M65.1,313.5L73.7,321.3M65.1,309.7L73.7,317.5M65.1,305.9L73.7,313.7M65.1,302.1L73.7,309.9M65.1,298.3L73.7,306.1M65.1,294.5L73.7,302.3M65.1,290.7L73.7,298.5M65.1,286.9L73.7,294.7M65.1,283.1L73.7,290.9M65.1,279.3L73.7,287.1M65.1,275.5L73.7,283.3M65.2,271.8L73.7,279.5M69.4,271.8L73.7,275.7M73.6,271.8L73.7,271.9" fill="none" stroke="#000" stroke-opacity="0.235" stroke-width="1.15"/>
<rect x="65.10" y="271.80" width="8.60" height="65.70" fill="none" stroke="#808080" stroke-width="0.8"/>
<rect x="82.45" y="292.82" width="8.60" height="44.68" fill="#fff"/>
<rect x="82.45" y="292.82" width="8.60" height="44.68" fill="none" stroke="#808080" stroke-width="0.8"/>
<rect x="91.05" y="300.79" width="8.60" height="36.71" fill="#fff"/>
<path d="M91.0,301.5L92.1,300.8M91.0,304.4L96.2,300.8M91.0,307.2L99.6,301.2M91.0,310.1L99.6,304.1M91.0,312.9L99.6,306.9M91.0,315.8L99.6,309.8M91.0,318.6L99.6,312.6M91.0,321.5L99.6,315.5M91.0,324.3L99.6,318.3M91.0,327.2L99.6,321.2M91.0,330.0L99.6,324.0M91.0,332.9L99.6,326.9M91.0,335.7L99.6,329.7M92.6,337.5L99.6,332.6M96.7,337.5L99.6,335.4" fill="none" stroke="#000" stroke-opacity="0.27" stroke-width="1.15"/>
<rect x="91.05" y="300.79" width="8.60" height="36.71" fill="none" stroke="#808080" stroke-width="0.8"/>
<rect x="99.65" y="298.59" width="8.60" height="38.91" fill="#fff"/>
<path d="M99.7,337.2L100.1,337.5M99.7,334.3L104.2,337.5M99.7,331.5L108.2,337.4M99.7,328.6L108.2,334.6M99.7,325.8L108.2,331.7M99.7,322.9L108.2,328.9M99.7,320.1L108.2,326.0M99.7,317.2L108.2,323.2M99.7,314.4L108.2,320.3M99.7,311.5L108.2,317.5M99.7,308.7L108.2,314.6M99.7,305.8L108.2,311.8M99.7,303.0L108.2,308.9M99.7,300.1L108.2,306.1M101.6,298.6L108.2,303.2M105.7,298.6L108.2,300.4" fill="none" stroke="#000" stroke-opacity="0.27" stroke-width="1.15"/>
<rect x="99.65" y="298.59" width="8.60" height="38.91" fill="none" stroke="#808080" stroke-width="0.8"/>
<rect x="108.25" y="292.82" width="8.60" height="44.68" fill="#fff"/>
<path d="M108.2,293.5L109.0,292.8M108.2,297.3L113.2,292.8M108.2,301.1L116.8,293.3M108.2,304.9L116.8,297.1M108.2,308.7L116.8,300.9M108.2,312.5L116.8,304.7M108.2,316.3L116.8,308.5M108.2,320.1L116.8,312.3M108.2,323.9L116.8,316.1M108.2,327.7L116.8,319.9M108.2,331.5L116.8,323.7M108.2,335.3L116.8,327.5M110.0,337.5L116.8,331.3M114.2,337.5L116.8,335.1" fill="none" stroke="#000" stroke-opacity="0.235" stroke-width="1.15"/><path d="M108.2,337.3L108.4,337.5M108.2,333.5L112.6,337.5M108.2,329.7L116.8,337.5M108.2,325.9L116.8,333.7M108.2,322.1L116.8,329.9M108.2,318.3L116.8,326.1M108.2,314.5L116.8,322.3M108.2,310.7L116.8,318.5M108.2,306.9L116.8,314.7M108.2,303.1L116.8,310.9M108.2,299.3L116.8,307.1M108.2,295.5L116.8,303.3M109.4,292.8L116.8,299.5M113.6,292.8L116.8,295.7" fill="none" stroke="#000" stroke-opacity="0.235" stroke-width="1.15"/>
<rect x="108.25" y="292.82" width="8.60" height="44.68" fill="none" stroke="#808080" stroke-width="0.8"/>
<rect x="125.60" y="294.66" width="8.60" height="42.84" fill="#fff"/>
<rect x="125.60" y="294.66" width="8.60" height="42.84" fill="none" stroke="#808080" stroke-width="0.8"/>
<rect x="134.20" y="290.28" width="8.60" height="47.22" fill="#fff"/>
<path d="M134.2,291.5L135.9,290.3M134.2,294.3L140.0,290.3M134.2,297.2L142.8,291.2M134.2,300.0L142.8,294.0M134.2,302.9L142.8,296.9M134.2,305.7L142.8,299.7M134.2,308.6L142.8,302.6M134.2,311.4L142.8,305.4M134.2,314.3L142.8,308.3M134.2,317.1L142.8,311.1M134.2,320.0L142.8,314.0M134.2,322.8L142.8,316.8M134.2,325.7L142.8,319.7M134.2,328.5L142.8,322.5M134.2,331.4L142.8,325.4M134.2,334.2L142.8,328.2M134.2,337.1L142.8,331.1M137.7,337.5L142.8,333.9M141.8,337.5L142.8,336.8" fill="none" stroke="#000" stroke-opacity="0.27" stroke-width="1.15"/>
<rect x="134.20" y="290.28" width="8.60" height="47.22" fill="none" stroke="#808080" stroke-width="0.8"/>
<rect x="142.80" y="289.35" width="8.60" height="48.15" fill="#fff"/>
<path d="M142.8,335.8L145.2,337.5M142.8,333.0L149.3,337.5M142.8,330.1L151.4,336.1M142.8,327.3L151.4,333.2M142.8,324.4L151.4,330.4M142.8,321.6L151.4,327.5M142.8,318.7L151.4,324.7M142.8,315.9L151.4,321.8M142.8,313.0L151.4,319.0M142.8,310.2L151.4,316.1M142.8,307.3L151.4,313.3M142.8,304.5L151.4,310.4M142.8,301.6L151.4,307.6M142.8,298.8L151.4,304.7M142.8,295.9L151.4,301.9M142.8,293.1L151.4,299.0M142.8,290.2L151.4,296.2M145.7,289.4L151.4,293.3M149.8,289.4L151.4,290.5" fill="none" stroke="#000" stroke-opacity="0.27" stroke-width="1.15"/>
<rect x="142.80" y="289.35" width="8.60" height="48.15" fill="none" stroke="#808080" stroke-width="0.8"/>
<rect x="151.40" y="294.66" width="8.60" height="42.84" fill="#fff"/>
<path d="M151.4,296.2L153.1,294.7M151.4,300.0L157.3,294.7M151.4,303.8L160.0,296.0M151.4,307.6L160.0,299.8M151.4,311.4L160.0,303.6M151.4,315.2L160.0,307.4M151.4,319.0L160.0,311.2M151.4,322.8L160.0,315.0M151.4,326.6L160.0,318.8M151.4,330.4L160.0,322.6M151.4,334.2L160.0,326.4M152.0,337.5L160.0,330.2M156.2,337.5L160.0,334.0" fill="none" stroke="#000" stroke-opacity="0.235" stroke-width="1.15"/><path d="M151.4,334.6L154.6,337.5M151.4,330.8L158.8,337.5M151.4,327.0L160.0,334.8M151.4,323.2L160.0,331.0M151.4,319.4L160.0,327.2M151.4,315.6L160.0,323.4M151.4,311.8L160.0,319.6M151.4,308.0L160.0,315.8M151.4,304.2L160.0,312.0M151.4,300.4L160.0,308.2M151.4,296.6L160.0,304.4M153.5,294.7L160.0,300.6M157.7,294.7L160.0,296.8" fill="none" stroke="#000" stroke-opacity="0.235" stroke-width="1.15"/>
<rect x="151.40" y="294.66" width="8.60" height="42.84" fill="none" stroke="#808080" stroke-width="0.8"/>
<rect x="168.75" y="224.39" width="8.60" height="113.11" fill="#fff"/>
<rect x="168.75" y="224.39" width="8.60" height="113.11" fill="none" stroke="#808080" stroke-width="0.8"/>
<rect x="177.35" y="209.60" width="8.60" height="127.90" fill="#fff"/>
<path d="M177.3,210.2L178.2,209.6M177.3,213.0L182.3,209.6M177.3,215.9L185.9,209.9M177.3,218.7L185.9,212.7M177.3,221.6L185.9,215.6M177.3,224.4L185.9,218.4M177.3,227.3L185.9,221.3M177.3,230.1L185.9,224.1M177.3,233.0L185.9,227.0M177.3,235.8L185.9,229.8M177.3,238.7L185.9,232.7M177.3,241.5L185.9,235.5M177.3,244.4L185.9,238.4M177.3,247.2L185.9,241.2M177.3,250.1L185.9,244.1M177.3,252.9L185.9,246.9M177.3,255.8L185.9,249.8M177.3,258.6L185.9,252.6M177.3,261.5L185.9,255.5M177.3,264.3L185.9,258.3M177.3,267.2L185.9,261.2M177.3,270.0L185.9,264.0M177.3,272.9L185.9,266.9M177.3,275.7L185.9,269.7M177.3,278.6L185.9,272.6M177.3,281.4L185.9,275.4M177.3,284.3L185.9,278.3M177.3,287.1L185.9,281.1M177.3,290.0L185.9,284.0M177.3,292.8L185.9,286.8M177.3,295.7L185.9,289.7M177.3,298.5L185.9,292.5M177.3,301.4L185.9,295.4M177.3,304.2L185.9,298.2M177.3,307.1L185.9,301.1M177.3,309.9L185.9,303.9M177.3,312.8L185.9,306.8M177.3,315.6L185.9,309.6M177.3,318.5L185.9,312.5M177.3,321.3L185.9,315.3M177.3,324.2L185.9,318.2M177.3,327.0L185.9,321.0M177.3,329.9L185.9,323.9M177.3,332.7L185.9,326.7M177.3,335.6L185.9,329.6M178.7,337.5L185.9,332.4M182.8,337.5L185.9,335.3" fill="none" stroke="#000" stroke-opacity="0.27" stroke-width="1.15"/>
<rect x="177.35" y="209.60" width="8.60" height="127.90" fill="none" stroke="#808080" stroke-width="0.8"/>
<rect x="185.95" y="216.59" width="8.60" height="120.91" fill="#fff"/>
<path d="M185.9,337.3L186.2,337.5M185.9,334.5L190.3,337.5M185.9,331.6L194.4,337.5M185.9,328.8L194.5,334.7M185.9,325.9L194.5,331.9M185.9,323.1L194.5,329.0M185.9,320.2L194.5,326.2M185.9,317.4L194.5,323.3M185.9,314.5L194.5,320.5M185.9,311.7L194.5,317.6M185.9,308.8L194.5,314.8M185.9,306.0L194.5,311.9M185.9,303.1L194.5,309.1M185.9,300.3L194.5,306.2M185.9,297.4L194.5,303.4M185.9,294.6L194.5,300.5M185.9,291.7L194.5,297.7M185.9,288.9L194.5,294.8M185.9,286.0L194.5,292.0M185.9,283.2L194.5,289.1M185.9,280.3L194.5,286.3M185.9,277.5L194.5,283.4M185.9,274.6L194.5,280.6M185.9,271.8L194.5,277.7M185.9,268.9L194.5,274.9M185.9,266.1L194.5,272.0M185.9,263.2L194.5,269.2M185.9,260.4L194.5,266.3M185.9,257.5L194.5,263.5M185.9,254.7L194.5,260.6M185.9,251.8L194.5,257.8M185.9,249.0L194.5,254.9M185.9,246.1L194.5,252.1M185.9,243.3L194.5,249.2M185.9,240.4L194.5,246.4M185.9,237.6L194.5,243.5M185.9,234.7L194.5,240.7M185.9,231.9L194.5,237.8M185.9,229.0L194.5,235.0M185.9,226.2L194.5,232.1M185.9,223.3L194.5,229.3M185.9,220.5L194.5,226.4M185.9,217.6L194.5,223.6M188.6,216.6L194.5,220.7M192.7,216.6L194.5,217.9" fill="none" stroke="#000" stroke-opacity="0.27" stroke-width="1.15"/>
<rect x="185.95" y="216.59" width="8.60" height="120.91" fill="none" stroke="#808080" stroke-width="0.8"/>
<rect x="194.55" y="224.39" width="8.60" height="113.11" fill="#fff"/>
<path d="M194.6,226.8L197.2,224.4M194.6,230.6L201.4,224.4M194.6,234.4L203.2,226.6M194.6,238.2L203.2,230.4M194.6,242.0L203.2,234.2M194.6,245.8L203.2,238.0M194.6,249.6L203.2,241.8M194.6,253.4L203.2,245.6M194.6,257.2L203.2,249.4M194.6,261.0L203.2,253.2M194.6,264.8L203.2,257.0M194.6,268.6L203.2,260.8M194.6,272.4L203.2,264.6M194.6,276.2L203.2,268.4M194.6,280.0L203.2,272.2M194.6,283.8L203.2,276.0M194.6,287.6L203.2,279.8M194.6,291.4L203.2,283.6M194.6,295.2L203.2,287.4M194.6,299.0L203.2,291.2M194.6,302.8L203.2,295.0M194.6,306.6L203.2,298.8M194.6,310.4L203.2,302.6M194.6,314.2L203.2,306.4M194.6,318.0L203.2,310.2M194.6,321.8L203.2,314.0M194.6,325.6L203.2,317.8M194.6,329.4L203.2,321.6M194.6,333.2L203.2,325.4M194.6,337.0L203.2,329.2M198.2,337.5L203.2,333.0M202.4,337.5L203.2,336.8" fill="none" stroke="#000" stroke-opacity="0.235" stroke-width="1.15"/><path d="M194.6,335.6L196.6,337.5M194.6,331.8L200.8,337.5M194.6,328.0L203.2,335.8M194.6,324.2L203.2,332.0M194.6,320.4L203.2,328.2M194.6,316.6L203.2,324.4M194.6,312.8L203.2,320.6M194.6,309.0L203.2,316.8M194.6,305.2L203.2,313.0M194.6,301.4L203.2,309.2M194.6,297.6L203.2,305.4M194.6,293.8L203.2,301.6M194.6,290.0L203.2,297.8M194.6,286.2L203.2,294.0M194.6,282.4L203.2,290.2M194.6,278.6L203.2,286.4M194.6,274.8L203.2,282.6M194.6,271.0L203.2,278.8M194.6,267.2L203.2,275.0M194.6,263.4L203.2,271.2M194.6,259.6L203.2,267.4M194.6,255.8L203.2,263.6M194.6,252.0L203.2,259.8M194.6,248.2L203.2,256.0M194.6,244.4L203.2,252.2M194.6,240.6L203.2,248.4M194.6,236.8L203.2,244.6M194.6,233.0L203.2,240.8M194.6,229.2L203.2,237.0M194.6,225.4L203.2,233.2M197.6,224.4L203.2,229.4M201.8,224.4L203.2,225.6" fill="none" stroke="#000" stroke-opacity="0.235" stroke-width="1.15"/>
<rect x="194.55" y="224.39" width="8.60" height="113.11" fill="none" stroke="#808080" stroke-width="0.8"/>
<path d="M34.20,198.60 V337.50 H208.50" fill="none" stroke="#333" stroke-width="1.25"/>
<path d="M31.70,337.50 H34.20 M32.80,325.95 H34.20 M31.70,314.40 H34.20 M32.80,302.85 H34.20 M31.70,291.30 H34.20 M32.80,279.75 H34.20 M31.70,268.20 H34.20 M32.80,256.65 H34.20 M31.70,245.10 H34.20 M32.80,233.55 H34.20 M31.70,222.00 H34.20 M32.80,210.45 H34.20 M31.70,198.90 H34.20 M56.50,337.50 V340.00 M78.08,337.50 V338.90 M99.65,337.50 V340.00 M121.22,337.50 V338.90 M142.80,337.50 V340.00 M164.38,337.50 V338.90 M185.95,337.50 V340.00" fill="none" stroke="#333" stroke-width="0.95"/>
<text class="a" x="31.40" y="339.45" font-size="5.75" text-anchor="end">0</text>
<text class="a" x="31.40" y="316.35" font-size="5.75" text-anchor="end">2,000</text>
<text class="a" x="31.40" y="293.25" font-size="5.75" text-anchor="end">4,000</text>
<text class="a" x="31.40" y="270.15" font-size="5.75" text-anchor="end">6,000</text>
<text class="a" x="31.40" y="247.05" font-size="5.75" text-anchor="end">8,000</text>
<text class="a" x="31.40" y="223.95" font-size="5.75" text-anchor="end">10,000</text>
<text class="a" x="31.40" y="200.85" font-size="5.75" text-anchor="end">12,000</text>
<text class="s d" x="55.10" y="347.00" font-size="5.60">1</text>
<text class="s d" x="98.25" y="347.00" font-size="5.60">2</text>
<text class="s d" x="141.40" y="347.00" font-size="5.60">3</text>
<text class="s d" x="184.55" y="347.00" font-size="5.60">4</text>
<text x="101.20" y="356.50"><tspan class="m" font-size="7.70" textLength="39.60" lengthAdjust="spacingAndGlyphs">Node Labels</tspan></text>
<text x="104.35" y="187.50"><tspan class="m" font-size="7.70" textLength="28.80" lengthAdjust="spacingAndGlyphs">TaskNum=</tspan><tspan class="s e" font-size="7.20">100</tspan></text>
<text class="a" transform="translate(11.40,273.50) rotate(-90)" font-size="6.7" text-anchor="middle">Work Time (min)</text>
<rect x="37.40" y="197.80" width="60.60" height="33.10" fill="#fff" stroke="#808080" stroke-width="0.8"/>
<rect x="38.60" y="199.45" width="13.9" height="6.20" fill="#fff"/>

<rect x="38.60" y="199.45" width="13.9" height="6.20" fill="none" stroke="#7a7a7a" stroke-width="0.75"/>
<text x="56.30" y="204.84"><tspan class="m" font-size="7.70" textLength="28.80" lengthAdjust="spacingAndGlyphs">FCFS_PSO</tspan></text>
<rect x="38.60" y="207.45" width="13.9" height="6.20" fill="#fff"/>
<path d="M38.6,209.7L41.9,207.5M38.6,212.6L46.0,207.5M41.1,213.7L50.1,207.5M45.2,213.7L52.5,208.6M49.3,213.7L52.5,211.5" fill="none" stroke="#000" stroke-opacity="0.34" stroke-width="1.15"/>
<rect x="38.60" y="207.45" width="13.9" height="6.20" fill="none" stroke="#7a7a7a" stroke-width="0.75"/>
<text x="56.30" y="213.11"><tspan class="m" font-size="7.70" textLength="25.20" lengthAdjust="spacingAndGlyphs">SJF_PSO</tspan></text>
<rect x="38.60" y="215.45" width="13.9" height="6.20" fill="#fff"/>
<path d="M38.6,220.6L40.1,221.7M38.6,217.8L44.2,221.7M39.3,215.5L48.3,221.7M43.4,215.5L52.4,221.7M47.5,215.5L52.5,218.9M51.6,215.5L52.5,216.0" fill="none" stroke="#000" stroke-opacity="0.34" stroke-width="1.15"/>
<rect x="38.60" y="215.45" width="13.9" height="6.20" fill="none" stroke="#7a7a7a" stroke-width="0.75"/>
<text x="56.30" y="221.39"><tspan class="m" font-size="7.70" textLength="39.60" lengthAdjust="spacingAndGlyphs">MAX_MAX_PSO</tspan></text>
<rect x="38.60" y="223.45" width="13.9" height="6.20" fill="#fff"/>
<path d="M38.6,223.5L38.6,223.5M38.6,227.3L42.8,223.5M40.2,229.7L47.0,223.5M44.4,229.7L51.2,223.5M48.6,229.7L52.5,226.1" fill="none" stroke="#000" stroke-opacity="0.34" stroke-width="1.15"/><path d="M38.6,228.7L39.6,229.7M38.6,224.9L43.8,229.7M41.2,223.5L48.0,229.7M45.4,223.5L52.2,229.7M49.6,223.5L52.5,226.1" fill="none" stroke="#000" stroke-opacity="0.34" stroke-width="1.15"/>
<rect x="38.60" y="223.45" width="13.9" height="6.20" fill="none" stroke="#7a7a7a" stroke-width="0.75"/>
<text x="56.30" y="229.66"><tspan class="m" font-size="7.70" textLength="10.80" lengthAdjust="spacingAndGlyphs">PSO</tspan></text>
</g>
<g>
<rect x="258.87" y="215.91" width="8.54" height="120.95" fill="#fff"/>
<rect x="258.87" y="215.91" width="8.54" height="120.95" fill="none" stroke="#808080" stroke-width="0.8"/>
<rect x="267.40" y="234.23" width="8.54" height="102.62" fill="#fff"/>
<path d="M267.4,235.9L269.8,234.2M267.4,238.8L273.9,234.2M267.4,241.6L275.9,235.7M267.4,244.5L275.9,238.5M267.4,247.3L275.9,241.4M267.4,250.2L275.9,244.2M267.4,253.0L275.9,247.1M267.4,255.9L275.9,249.9M267.4,258.7L275.9,252.8M267.4,261.6L275.9,255.6M267.4,264.4L275.9,258.5M267.4,267.3L275.9,261.3M267.4,270.1L275.9,264.2M267.4,273.0L275.9,267.0M267.4,275.8L275.9,269.9M267.4,278.7L275.9,272.7M267.4,281.5L275.9,275.6M267.4,284.4L275.9,278.4M267.4,287.2L275.9,281.3M267.4,290.1L275.9,284.1M267.4,292.9L275.9,287.0M267.4,295.8L275.9,289.8M267.4,298.6L275.9,292.7M267.4,301.5L275.9,295.5M267.4,304.3L275.9,298.4M267.4,307.2L275.9,301.2M267.4,310.0L275.9,304.1M267.4,312.9L275.9,306.9M267.4,315.7L275.9,309.8M267.4,318.6L275.9,312.6M267.4,321.4L275.9,315.5M267.4,324.3L275.9,318.3M267.4,327.1L275.9,321.2M267.4,330.0L275.9,324.0M267.4,332.8L275.9,326.9M267.4,335.7L275.9,329.7M269.8,336.9L275.9,332.6M273.9,336.9L275.9,335.4" fill="none" stroke="#000" stroke-opacity="0.27" stroke-width="1.15"/>
<rect x="267.40" y="234.23" width="8.54" height="102.62" fill="none" stroke="#808080" stroke-width="0.8"/>
<rect x="275.94" y="226.90" width="8.54" height="109.95" fill="#fff"/>
<path d="M275.9,334.3L279.6,336.9M275.9,331.5L283.7,336.9M275.9,328.6L284.5,334.5M275.9,325.8L284.5,331.7M275.9,322.9L284.5,328.8M275.9,320.1L284.5,326.0M275.9,317.2L284.5,323.1M275.9,314.4L284.5,320.3M275.9,311.5L284.5,317.4M275.9,308.7L284.5,314.6M275.9,305.8L284.5,311.7M275.9,303.0L284.5,308.9M275.9,300.1L284.5,306.0M275.9,297.3L284.5,303.2M275.9,294.4L284.5,300.3M275.9,291.6L284.5,297.5M275.9,288.7L284.5,294.6M275.9,285.9L284.5,291.8M275.9,283.0L284.5,288.9M275.9,280.2L284.5,286.1M275.9,277.3L284.5,283.2M275.9,274.5L284.5,280.4M275.9,271.6L284.5,277.5M275.9,268.8L284.5,274.7M275.9,265.9L284.5,271.8M275.9,263.1L284.5,269.0M275.9,260.2L284.5,266.1M275.9,257.4L284.5,263.3M275.9,254.5L284.5,260.4M275.9,251.7L284.5,257.6M275.9,248.8L284.5,254.7M275.9,246.0L284.5,251.9M275.9,243.1L284.5,249.0M275.9,240.3L284.5,246.2M275.9,237.4L284.5,243.3M275.9,234.6L284.5,240.5M275.9,231.7L284.5,237.6M275.9,228.9L284.5,234.8M277.2,226.9L284.5,231.9M281.3,226.9L284.5,229.1" fill="none" stroke="#000" stroke-opacity="0.27" stroke-width="1.15"/>
<rect x="275.94" y="226.90" width="8.54" height="109.95" fill="none" stroke="#808080" stroke-width="0.8"/>
<rect x="284.47" y="248.89" width="8.54" height="87.96" fill="#fff"/>
<path d="M284.5,251.8L287.7,248.9M284.5,255.6L291.9,248.9M284.5,259.4L293.0,251.7M284.5,263.2L293.0,255.5M284.5,267.0L293.0,259.3M284.5,270.8L293.0,263.1M284.5,274.6L293.0,266.9M284.5,278.4L293.0,270.7M284.5,282.2L293.0,274.5M284.5,286.0L293.0,278.3M284.5,289.8L293.0,282.1M284.5,293.6L293.0,285.9M284.5,297.4L293.0,289.7M284.5,301.2L293.0,293.5M284.5,305.0L293.0,297.3M284.5,308.8L293.0,301.1M284.5,312.6L293.0,304.9M284.5,316.4L293.0,308.7M284.5,320.2L293.0,312.5M284.5,324.0L293.0,316.3M284.5,327.8L293.0,320.1M284.5,331.6L293.0,323.9M284.5,335.4L293.0,327.7M287.1,336.9L293.0,331.5M291.3,336.9L293.0,335.3" fill="none" stroke="#000" stroke-opacity="0.235" stroke-width="1.15"/><path d="M284.5,333.4L288.3,336.9M284.5,329.6L292.5,336.9M284.5,325.8L293.0,333.5M284.5,322.0L293.0,329.7M284.5,318.2L293.0,325.9M284.5,314.4L293.0,322.1M284.5,310.6L293.0,318.3M284.5,306.8L293.0,314.5M284.5,303.0L293.0,310.7M284.5,299.2L293.0,306.9M284.5,295.4L293.0,303.1M284.5,291.6L293.0,299.3M284.5,287.8L293.0,295.5M284.5,284.0L293.0,291.7M284.5,280.2L293.0,287.9M284.5,276.4L293.0,284.1M284.5,272.6L293.0,280.3M284.5,268.8L293.0,276.5M284.5,265.0L293.0,272.7M284.5,261.2L293.0,268.9M284.5,257.4L293.0,265.1M284.5,253.6L293.0,261.3M284.5,249.8L293.0,257.5M287.7,248.9L293.0,253.7M291.9,248.9L293.0,249.9" fill="none" stroke="#000" stroke-opacity="0.235" stroke-width="1.15"/>
<rect x="284.47" y="248.89" width="8.54" height="87.96" fill="none" stroke="#808080" stroke-width="0.8"/>
<rect x="301.54" y="223.24" width="8.54" height="113.61" fill="#fff"/>
<rect x="301.54" y="223.24" width="8.54" height="113.61" fill="none" stroke="#808080" stroke-width="0.8"/>
<rect x="310.08" y="212.24" width="8.54" height="124.61" fill="#fff"/>
<path d="M310.1,214.8L313.8,212.2M310.1,217.7L317.9,212.2M310.1,220.5L318.6,214.6M310.1,223.4L318.6,217.4M310.1,226.2L318.6,220.3M310.1,229.1L318.6,223.1M310.1,231.9L318.6,226.0M310.1,234.8L318.6,228.8M310.1,237.6L318.6,231.7M310.1,240.5L318.6,234.5M310.1,243.3L318.6,237.4M310.1,246.2L318.6,240.2M310.1,249.0L318.6,243.1M310.1,251.9L318.6,245.9M310.1,254.7L318.6,248.8M310.1,257.6L318.6,251.6M310.1,260.4L318.6,254.5M310.1,263.3L318.6,257.3M310.1,266.1L318.6,260.2M310.1,269.0L318.6,263.0M310.1,271.8L318.6,265.9M310.1,274.7L318.6,268.7M310.1,277.5L318.6,271.6M310.1,280.4L318.6,274.4M310.1,283.2L318.6,277.3M310.1,286.1L318.6,280.1M310.1,288.9L318.6,283.0M310.1,291.8L318.6,285.8M310.1,294.6L318.6,288.7M310.1,297.5L318.6,291.5M310.1,300.3L318.6,294.4M310.1,303.2L318.6,297.2M310.1,306.0L318.6,300.1M310.1,308.9L318.6,302.9M310.1,311.7L318.6,305.8M310.1,314.6L318.6,308.6M310.1,317.4L318.6,311.5M310.1,320.3L318.6,314.3M310.1,323.1L318.6,317.2M310.1,326.0L318.6,320.0M310.1,328.8L318.6,322.9M310.1,331.7L318.6,325.7M310.1,334.5L318.6,328.6M310.8,336.9L318.6,331.4M314.9,336.9L318.6,334.3" fill="none" stroke="#000" stroke-opacity="0.27" stroke-width="1.15"/>
<rect x="310.08" y="212.24" width="8.54" height="124.61" fill="none" stroke="#808080" stroke-width="0.8"/>
<rect x="318.61" y="215.91" width="8.54" height="120.95" fill="#fff"/>
<path d="M318.6,335.5L320.6,336.9M318.6,332.6L324.7,336.9M318.6,329.8L327.1,335.7M318.6,326.9L327.1,332.9M318.6,324.1L327.1,330.0M318.6,321.2L327.1,327.2M318.6,318.4L327.1,324.3M318.6,315.5L327.1,321.5M318.6,312.7L327.1,318.6M318.6,309.8L327.1,315.8M318.6,307.0L327.1,312.9M318.6,304.1L327.1,310.1M318.6,301.3L327.1,307.2M318.6,298.4L327.1,304.4M318.6,295.6L327.1,301.5M318.6,292.7L327.1,298.7M318.6,289.9L327.1,295.8M318.6,287.0L327.1,293.0M318.6,284.2L327.1,290.1M318.6,281.3L327.1,287.3M318.6,278.5L327.1,284.4M318.6,275.6L327.1,281.6M318.6,272.8L327.1,278.7M318.6,269.9L327.1,275.9M318.6,267.1L327.1,273.0M318.6,264.2L327.1,270.2M318.6,261.4L327.1,267.3M318.6,258.5L327.1,264.5M318.6,255.7L327.1,261.6M318.6,252.8L327.1,258.8M318.6,250.0L327.1,255.9M318.6,247.1L327.1,253.1M318.6,244.3L327.1,250.2M318.6,241.4L327.1,247.4M318.6,238.6L327.1,244.5M318.6,235.7L327.1,241.7M318.6,232.9L327.1,238.8M318.6,230.0L327.1,236.0M318.6,227.2L327.1,233.1M318.6,224.3L327.1,230.3M318.6,221.5L327.1,227.4M318.6,218.6L327.1,224.6M318.8,215.9L327.1,221.7M322.9,215.9L327.1,218.9M327.0,215.9L327.1,216.0" fill="none" stroke="#000" stroke-opacity="0.27" stroke-width="1.15"/>
<rect x="318.61" y="215.91" width="8.54" height="120.95" fill="none" stroke="#808080" stroke-width="0.8"/>
<rect x="327.15" y="219.57" width="8.54" height="117.28" fill="#fff"/>
<path d="M327.1,220.8L328.5,219.6M327.1,224.6L332.7,219.6M327.1,228.4L335.7,220.7M327.1,232.2L335.7,224.5M327.1,236.0L335.7,228.3M327.1,239.8L335.7,232.1M327.1,243.6L335.7,235.9M327.1,247.4L335.7,239.7M327.1,251.2L335.7,243.5M327.1,255.0L335.7,247.3M327.1,258.8L335.7,251.1M327.1,262.6L335.7,254.9M327.1,266.4L335.7,258.7M327.1,270.2L335.7,262.5M327.1,274.0L335.7,266.3M327.1,277.8L335.7,270.1M327.1,281.6L335.7,273.9M327.1,285.4L335.7,277.7M327.1,289.2L335.7,281.5M327.1,293.0L335.7,285.3M327.1,296.8L335.7,289.1M327.1,300.6L335.7,292.9M327.1,304.4L335.7,296.7M327.1,308.2L335.7,300.5M327.1,312.0L335.7,304.3M327.1,315.8L335.7,308.1M327.1,319.6L335.7,311.9M327.1,323.4L335.7,315.7M327.1,327.2L335.7,319.5M327.1,331.0L335.7,323.3M327.1,334.8L335.7,327.1M329.1,336.9L335.7,330.9M333.3,336.9L335.7,334.7" fill="none" stroke="#000" stroke-opacity="0.235" stroke-width="1.15"/><path d="M327.1,334.0L330.3,336.9M327.1,330.2L334.5,336.9M327.1,326.4L335.7,334.1M327.1,322.6L335.7,330.3M327.1,318.8L335.7,326.5M327.1,315.0L335.7,322.7M327.1,311.2L335.7,318.9M327.1,307.4L335.7,315.1M327.1,303.6L335.7,311.3M327.1,299.8L335.7,307.5M327.1,296.0L335.7,303.7M327.1,292.2L335.7,299.9M327.1,288.4L335.7,296.1M327.1,284.6L335.7,292.3M327.1,280.8L335.7,288.5M327.1,277.0L335.7,284.7M327.1,273.2L335.7,280.9M327.1,269.4L335.7,277.1M327.1,265.6L335.7,273.3M327.1,261.8L335.7,269.5M327.1,258.0L335.7,265.7M327.1,254.2L335.7,261.9M327.1,250.4L335.7,258.1M327.1,246.6L335.7,254.3M327.1,242.8L335.7,250.5M327.1,239.0L335.7,246.7M327.1,235.2L335.7,242.9M327.1,231.4L335.7,239.1M327.1,227.6L335.7,235.3M327.1,223.8L335.7,231.5M327.1,220.0L335.7,227.7M330.9,219.6L335.7,223.9M335.1,219.6L335.7,220.1" fill="none" stroke="#000" stroke-opacity="0.235" stroke-width="1.15"/>
<rect x="327.15" y="219.57" width="8.54" height="117.28" fill="none" stroke="#808080" stroke-width="0.8"/>
<rect x="344.22" y="252.56" width="8.54" height="84.30" fill="#fff"/>
<rect x="344.22" y="252.56" width="8.54" height="84.30" fill="none" stroke="#808080" stroke-width="0.8"/>
<rect x="352.75" y="241.56" width="8.54" height="95.29" fill="#fff"/>
<path d="M352.8,242.1L353.6,241.6M352.8,245.0L357.7,241.6M352.8,247.8L361.3,241.9M352.8,250.7L361.3,244.8M352.8,253.5L361.3,247.6M352.8,256.4L361.3,250.5M352.8,259.2L361.3,253.3M352.8,262.1L361.3,256.2M352.8,264.9L361.3,259.0M352.8,267.8L361.3,261.9M352.8,270.6L361.3,264.7M352.8,273.5L361.3,267.6M352.8,276.3L361.3,270.4M352.8,279.2L361.3,273.3M352.8,282.0L361.3,276.1M352.8,284.9L361.3,279.0M352.8,287.7L361.3,281.8M352.8,290.6L361.3,284.7M352.8,293.4L361.3,287.5M352.8,296.3L361.3,290.4M352.8,299.1L361.3,293.2M352.8,302.0L361.3,296.1M352.8,304.8L361.3,298.9M352.8,307.7L361.3,301.8M352.8,310.5L361.3,304.6M352.8,313.4L361.3,307.5M352.8,316.2L361.3,310.3M352.8,319.1L361.3,313.2M352.8,321.9L361.3,316.0M352.8,324.8L361.3,318.9M352.8,327.6L361.3,321.7M352.8,330.5L361.3,324.6M352.8,333.3L361.3,327.4M352.8,336.2L361.3,330.3M355.9,336.9L361.3,333.1M360.0,336.9L361.3,336.0" fill="none" stroke="#000" stroke-opacity="0.27" stroke-width="1.15"/>
<rect x="352.75" y="241.56" width="8.54" height="95.29" fill="none" stroke="#808080" stroke-width="0.8"/>
<rect x="361.29" y="256.22" width="8.54" height="80.63" fill="#fff"/>
<path d="M361.3,336.6L361.6,336.9M361.3,333.8L365.7,336.9M361.3,330.9L369.8,336.9M361.3,328.1L369.8,334.0M361.3,325.2L369.8,331.2M361.3,322.4L369.8,328.3M361.3,319.5L369.8,325.5M361.3,316.7L369.8,322.6M361.3,313.8L369.8,319.8M361.3,311.0L369.8,316.9M361.3,308.1L369.8,314.1M361.3,305.3L369.8,311.2M361.3,302.4L369.8,308.4M361.3,299.6L369.8,305.5M361.3,296.7L369.8,302.7M361.3,293.9L369.8,299.8M361.3,291.0L369.8,297.0M361.3,288.2L369.8,294.1M361.3,285.3L369.8,291.3M361.3,282.5L369.8,288.4M361.3,279.6L369.8,285.6M361.3,276.8L369.8,282.7M361.3,273.9L369.8,279.9M361.3,271.1L369.8,277.0M361.3,268.2L369.8,274.2M361.3,265.4L369.8,271.3M361.3,262.5L369.8,268.5M361.3,259.7L369.8,265.6M361.3,256.8L369.8,262.8M364.5,256.2L369.8,259.9M368.6,256.2L369.8,257.1" fill="none" stroke="#000" stroke-opacity="0.27" stroke-width="1.15"/>
<rect x="361.29" y="256.22" width="8.54" height="80.63" fill="none" stroke="#808080" stroke-width="0.8"/>
<rect x="369.82" y="230.57" width="8.54" height="106.28" fill="#fff"/>
<path d="M369.8,231.6L371.0,230.6M369.8,235.4L375.2,230.6M369.8,239.2L378.4,231.5M369.8,243.0L378.4,235.3M369.8,246.8L378.4,239.1M369.8,250.6L378.4,242.9M369.8,254.4L378.4,246.7M369.8,258.2L378.4,250.5M369.8,262.0L378.4,254.3M369.8,265.8L378.4,258.1M369.8,269.6L378.4,261.9M369.8,273.4L378.4,265.7M369.8,277.2L378.4,269.5M369.8,281.0L378.4,273.3M369.8,284.8L378.4,277.1M369.8,288.6L378.4,280.9M369.8,292.4L378.4,284.7M369.8,296.2L378.4,288.5M369.8,300.0L378.4,292.3M369.8,303.8L378.4,296.1M369.8,307.6L378.4,299.9M369.8,311.4L378.4,303.7M369.8,315.2L378.4,307.5M369.8,319.0L378.4,311.3M369.8,322.8L378.4,315.1M369.8,326.6L378.4,318.9M369.8,330.4L378.4,322.7M369.8,334.2L378.4,326.5M371.1,336.9L378.4,330.3M375.3,336.9L378.4,334.1" fill="none" stroke="#000" stroke-opacity="0.235" stroke-width="1.15"/><path d="M369.8,334.6L372.3,336.9M369.8,330.8L376.5,336.9M369.8,327.0L378.4,334.7M369.8,323.2L378.4,330.9M369.8,319.4L378.4,327.1M369.8,315.6L378.4,323.3M369.8,311.8L378.4,319.5M369.8,308.0L378.4,315.7M369.8,304.2L378.4,311.9M369.8,300.4L378.4,308.1M369.8,296.6L378.4,304.3M369.8,292.8L378.4,300.5M369.8,289.0L378.4,296.7M369.8,285.2L378.4,292.9M369.8,281.4L378.4,289.1M369.8,277.6L378.4,285.3M369.8,273.8L378.4,281.5M369.8,270.0L378.4,277.7M369.8,266.2L378.4,273.9M369.8,262.4L378.4,270.1M369.8,258.6L378.4,266.3M369.8,254.8L378.4,262.5M369.8,251.0L378.4,258.7M369.8,247.2L378.4,254.9M369.8,243.4L378.4,251.1M369.8,239.6L378.4,247.3M369.8,235.8L378.4,243.5M369.8,232.0L378.4,239.7M372.4,230.6L378.4,235.9M376.6,230.6L378.4,232.1" fill="none" stroke="#000" stroke-opacity="0.235" stroke-width="1.15"/>
<rect x="369.82" y="230.57" width="8.54" height="106.28" fill="none" stroke="#808080" stroke-width="0.8"/>
<rect x="386.89" y="289.21" width="8.54" height="47.65" fill="#fff"/>
<rect x="386.89" y="289.21" width="8.54" height="47.65" fill="none" stroke="#808080" stroke-width="0.8"/>
<rect x="395.43" y="292.87" width="8.54" height="43.98" fill="#fff"/>
<path d="M395.4,295.1L398.7,292.9M395.4,298.0L402.8,292.9M395.4,300.8L404.0,294.9M395.4,303.7L404.0,297.7M395.4,306.5L404.0,300.6M395.4,309.4L404.0,303.4M395.4,312.2L404.0,306.3M395.4,315.1L404.0,309.1M395.4,317.9L404.0,312.0M395.4,320.8L404.0,314.8M395.4,323.6L404.0,317.7M395.4,326.5L404.0,320.5M395.4,329.3L404.0,323.4M395.4,332.2L404.0,326.2M395.4,335.0L404.0,329.1M396.9,336.9L404.0,331.9M401.0,336.9L404.0,334.8" fill="none" stroke="#000" stroke-opacity="0.27" stroke-width="1.15"/>
<rect x="395.43" y="292.87" width="8.54" height="43.98" fill="none" stroke="#808080" stroke-width="0.8"/>
<rect x="403.96" y="281.88" width="8.54" height="54.98" fill="#fff"/>
<path d="M404.0,335.0L406.7,336.9M404.0,332.1L410.8,336.9M404.0,329.3L412.5,335.2M404.0,326.4L412.5,332.3M404.0,323.6L412.5,329.5M404.0,320.7L412.5,326.6M404.0,317.9L412.5,323.8M404.0,315.0L412.5,320.9M404.0,312.2L412.5,318.1M404.0,309.3L412.5,315.2M404.0,306.5L412.5,312.4M404.0,303.6L412.5,309.5M404.0,300.8L412.5,306.7M404.0,297.9L412.5,303.8M404.0,295.1L412.5,301.0M404.0,292.2L412.5,298.1M404.0,289.4L412.5,295.3M404.0,286.5L412.5,292.4M404.0,283.7L412.5,289.6M405.5,281.9L412.5,286.7M409.6,281.9L412.5,283.9" fill="none" stroke="#000" stroke-opacity="0.27" stroke-width="1.15"/>
<rect x="403.96" y="281.88" width="8.54" height="54.98" fill="none" stroke="#808080" stroke-width="0.8"/>
<rect x="412.50" y="281.88" width="8.54" height="54.98" fill="#fff"/>
<path d="M412.5,284.2L415.1,281.9M412.5,288.0L419.3,281.9M412.5,291.8L421.0,284.1M412.5,295.6L421.0,287.9M412.5,299.4L421.0,291.7M412.5,303.2L421.0,295.5M412.5,307.0L421.0,299.3M412.5,310.8L421.0,303.1M412.5,314.6L421.0,306.9M412.5,318.4L421.0,310.7M412.5,322.2L421.0,314.5M412.5,326.0L421.0,318.3M412.5,329.8L421.0,322.1M412.5,333.6L421.0,325.9M413.1,336.9L421.0,329.7M417.3,336.9L421.0,333.5" fill="none" stroke="#000" stroke-opacity="0.235" stroke-width="1.15"/><path d="M412.5,335.2L414.3,336.9M412.5,331.4L418.5,336.9M412.5,327.6L421.0,335.3M412.5,323.8L421.0,331.5M412.5,320.0L421.0,327.7M412.5,316.2L421.0,323.9M412.5,312.4L421.0,320.1M412.5,308.6L421.0,316.3M412.5,304.8L421.0,312.5M412.5,301.0L421.0,308.7M412.5,297.2L421.0,304.9M412.5,293.4L421.0,301.1M412.5,289.6L421.0,297.3M412.5,285.8L421.0,293.5M412.5,282.0L421.0,289.7M416.5,281.9L421.0,285.9M420.7,281.9L421.0,282.1" fill="none" stroke="#000" stroke-opacity="0.235" stroke-width="1.15"/>
<rect x="412.50" y="281.88" width="8.54" height="54.98" fill="none" stroke="#808080" stroke-width="0.8"/>
<path d="M254.60,199.00 V336.85 H425.30" fill="none" stroke="#333" stroke-width="1.25"/>
<path d="M252.10,336.85 H254.60 M253.20,327.69 H254.60 M252.10,318.53 H254.60 M253.20,309.36 H254.60 M252.10,300.20 H254.60 M253.20,291.04 H254.60 M252.10,281.88 H254.60 M253.20,272.71 H254.60 M252.10,263.55 H254.60 M253.20,254.39 H254.60 M252.10,245.23 H254.60 M253.20,236.06 H254.60 M252.10,226.90 H254.60 M253.20,217.74 H254.60 M252.10,208.58 H254.60 M253.20,199.41 H254.60 M275.94,336.85 V339.35 M297.27,336.85 V338.25 M318.61,336.85 V339.35 M339.95,336.85 V338.25 M361.29,336.85 V339.35 M382.62,336.85 V338.25 M403.96,336.85 V339.35" fill="none" stroke="#333" stroke-width="0.95"/>
<text class="s d" x="247.20" y="338.75" font-size="5.60">0</text>
<text class="s d" x="247.20" y="320.43" font-size="5.60">5</text>
<text class="s d" x="244.40" y="302.10" font-size="5.60">10</text>
<text class="s d" x="244.40" y="283.77" font-size="5.60">15</text>
<text class="s d" x="244.40" y="265.45" font-size="5.60">20</text>
<text class="s d" x="244.40" y="247.13" font-size="5.60">25</text>
<text class="s d" x="244.40" y="228.80" font-size="5.60">30</text>
<text class="s d" x="244.40" y="210.48" font-size="5.60">35</text>
<text class="s d" x="274.54" y="346.70" font-size="5.60">1</text>
<text class="s d" x="317.21" y="346.70" font-size="5.60">2</text>
<text class="s d" x="359.89" y="346.70" font-size="5.60">3</text>
<text class="s d" x="402.56" y="346.70" font-size="5.60">4</text>
<text x="319.50" y="355.80"><tspan class="m" font-size="7.70" textLength="39.60" lengthAdjust="spacingAndGlyphs">Node Labels</tspan></text>
<text x="309.35" y="190.80"><tspan class="m" font-size="7.70" textLength="28.80" lengthAdjust="spacingAndGlyphs">TaskNum=</tspan><tspan class="s e" font-size="7.20">100</tspan></text>
<text class="m" transform="translate(240.70,267.80) rotate(-90) scale(0.7792,1)" font-size="7.70" text-anchor="middle">Number Of Node&#39;s Tasks</text>
<rect x="364.90" y="190.00" width="59.60" height="33.10" fill="#fff" stroke="#808080" stroke-width="0.8"/>
<rect x="366.10" y="191.65" width="13.9" height="6.20" fill="#fff"/>

<rect x="366.10" y="191.65" width="13.9" height="6.20" fill="none" stroke="#7a7a7a" stroke-width="0.75"/>
<text x="383.80" y="197.04"><tspan class="m" font-size="7.70" textLength="28.80" lengthAdjust="spacingAndGlyphs">FCFS_PSO</tspan></text>
<rect x="366.10" y="199.65" width="13.9" height="6.20" fill="#fff"/>
<path d="M366.1,201.5L368.8,199.7M366.1,204.4L372.9,199.7M368.1,205.8L377.0,199.7M372.2,205.8L380.0,200.4M376.3,205.8L380.0,203.3" fill="none" stroke="#000" stroke-opacity="0.34" stroke-width="1.15"/>
<rect x="366.10" y="199.65" width="13.9" height="6.20" fill="none" stroke="#7a7a7a" stroke-width="0.75"/>
<text x="383.80" y="205.31"><tspan class="m" font-size="7.70" textLength="25.20" lengthAdjust="spacingAndGlyphs">SJF_PSO</tspan></text>
<rect x="366.10" y="207.65" width="13.9" height="6.20" fill="#fff"/>
<path d="M366.1,211.7L369.1,213.8M366.1,208.9L373.2,213.8M368.4,207.7L377.3,213.8M372.5,207.7L380.0,212.8M376.6,207.7L380.0,210.0" fill="none" stroke="#000" stroke-opacity="0.34" stroke-width="1.15"/>
<rect x="366.10" y="207.65" width="13.9" height="6.20" fill="none" stroke="#7a7a7a" stroke-width="0.75"/>
<text x="383.80" y="213.59"><tspan class="m" font-size="7.70" textLength="39.60" lengthAdjust="spacingAndGlyphs">MAX_MAX_PSO</tspan></text>
<rect x="366.10" y="215.65" width="13.9" height="6.20" fill="#fff"/>
<path d="M366.1,216.0L366.4,215.7M366.1,219.8L370.6,215.7M368.0,221.8L374.9,215.7M372.2,221.8L379.1,215.7M376.4,221.8L380.0,218.6" fill="none" stroke="#000" stroke-opacity="0.34" stroke-width="1.15"/><path d="M366.1,221.0L367.0,221.8M366.1,217.2L371.2,221.8M368.6,215.7L375.4,221.8M372.8,215.7L379.6,221.8M377.0,215.7L380.0,218.4" fill="none" stroke="#000" stroke-opacity="0.34" stroke-width="1.15"/>
<rect x="366.10" y="215.65" width="13.9" height="6.20" fill="none" stroke="#7a7a7a" stroke-width="0.75"/>
<text x="383.80" y="221.86"><tspan class="m" font-size="7.70" textLength="10.80" lengthAdjust="spacingAndGlyphs">PSO</tspan></text>
</g>
<g>
<rect x="37.51" y="460.49" width="8.82" height="67.01" fill="#fff"/>
<rect x="37.51" y="460.49" width="8.82" height="67.01" fill="none" stroke="#808080" stroke-width="0.8"/>
<rect x="46.33" y="462.49" width="8.82" height="65.01" fill="#fff"/>
<path d="M46.3,463.7L48.1,462.5M46.3,466.5L52.2,462.5M46.3,469.4L55.2,463.3M46.3,472.2L55.2,466.1M46.3,475.1L55.2,469.0M46.3,477.9L55.2,471.8M46.3,480.8L55.2,474.7M46.3,483.6L55.2,477.5M46.3,486.5L55.2,480.4M46.3,489.3L55.2,483.2M46.3,492.2L55.2,486.1M46.3,495.0L55.2,488.9M46.3,497.9L55.2,491.8M46.3,500.7L55.2,494.6M46.3,503.6L55.2,497.5M46.3,506.4L55.2,500.3M46.3,509.3L55.2,503.2M46.3,512.1L55.2,506.0M46.3,515.0L55.2,508.9M46.3,517.8L55.2,511.7M46.3,520.7L55.2,514.6M46.3,523.5L55.2,517.4M46.3,526.4L55.2,520.3M48.8,527.5L55.2,523.1M52.9,527.5L55.2,526.0" fill="none" stroke="#000" stroke-opacity="0.27" stroke-width="1.15"/>
<rect x="46.33" y="462.49" width="8.82" height="65.01" fill="none" stroke="#808080" stroke-width="0.8"/>
<rect x="55.15" y="461.53" width="8.82" height="65.97" fill="#fff"/>
<path d="M55.2,525.7L57.8,527.5M55.2,522.8L61.9,527.5M55.2,520.0L64.0,526.1M55.2,517.1L64.0,523.3M55.2,514.3L64.0,520.4M55.2,511.4L64.0,517.6M55.2,508.6L64.0,514.7M55.2,505.7L64.0,511.9M55.2,502.9L64.0,509.0M55.2,500.0L64.0,506.2M55.2,497.2L64.0,503.3M55.2,494.3L64.0,500.5M55.2,491.5L64.0,497.6M55.2,488.6L64.0,494.8M55.2,485.8L64.0,491.9M55.2,482.9L64.0,489.1M55.2,480.1L64.0,486.2M55.2,477.2L64.0,483.4M55.2,474.4L64.0,480.5M55.2,471.5L64.0,477.7M55.2,468.7L64.0,474.8M55.2,465.8L64.0,472.0M55.2,463.0L64.0,469.1M57.1,461.5L64.0,466.3M61.2,461.5L64.0,463.4" fill="none" stroke="#000" stroke-opacity="0.27" stroke-width="1.15"/>
<rect x="55.15" y="461.53" width="8.82" height="65.97" fill="none" stroke="#808080" stroke-width="0.8"/>
<rect x="63.97" y="460.49" width="8.82" height="67.01" fill="#fff"/>
<path d="M64.0,462.7L66.4,460.5M64.0,466.5L70.6,460.5M64.0,470.3L72.8,462.3M64.0,474.1L72.8,466.1M64.0,477.9L72.8,469.9M64.0,481.7L72.8,473.7M64.0,485.5L72.8,477.5M64.0,489.3L72.8,481.3M64.0,493.1L72.8,485.1M64.0,496.9L72.8,488.9M64.0,500.7L72.8,492.7M64.0,504.5L72.8,496.5M64.0,508.3L72.8,500.3M64.0,512.1L72.8,504.1M64.0,515.9L72.8,507.9M64.0,519.7L72.8,511.7M64.0,523.5L72.8,515.5M64.0,527.3L72.8,519.3M68.0,527.5L72.8,523.1M72.2,527.5L72.8,526.9" fill="none" stroke="#000" stroke-opacity="0.235" stroke-width="1.15"/><path d="M64.0,525.3L66.4,527.5M64.0,521.5L70.6,527.5M64.0,517.7L72.8,525.7M64.0,513.9L72.8,521.9M64.0,510.1L72.8,518.1M64.0,506.3L72.8,514.3M64.0,502.5L72.8,510.5M64.0,498.7L72.8,506.7M64.0,494.9L72.8,502.9M64.0,491.1L72.8,499.1M64.0,487.3L72.8,495.3M64.0,483.5L72.8,491.5M64.0,479.7L72.8,487.7M64.0,475.9L72.8,483.9M64.0,472.1L72.8,480.1M64.0,468.3L72.8,476.3M64.0,464.5L72.8,472.5M64.0,460.7L72.8,468.7M68.0,460.5L72.8,464.9M72.2,460.5L72.8,461.1" fill="none" stroke="#000" stroke-opacity="0.235" stroke-width="1.15"/>
<rect x="63.97" y="460.49" width="8.82" height="67.01" fill="none" stroke="#808080" stroke-width="0.8"/>
<rect x="81.61" y="481.82" width="8.82" height="45.68" fill="#fff"/>
<rect x="81.61" y="481.82" width="8.82" height="45.68" fill="none" stroke="#808080" stroke-width="0.8"/>
<rect x="90.43" y="489.11" width="8.82" height="38.39" fill="#fff"/>
<path d="M90.4,490.0L91.8,489.1M90.4,492.9L95.9,489.1M90.4,495.7L99.2,489.6M90.4,498.6L99.2,492.5M90.4,501.4L99.2,495.3M90.4,504.3L99.2,498.2M90.4,507.1L99.2,501.0M90.4,510.0L99.2,503.9M90.4,512.8L99.2,506.7M90.4,515.7L99.2,509.6M90.4,518.5L99.2,512.4M90.4,521.4L99.2,515.3M90.4,524.2L99.2,518.1M90.4,527.1L99.2,521.0M93.9,527.5L99.2,523.8M98.0,527.5L99.2,526.7" fill="none" stroke="#000" stroke-opacity="0.27" stroke-width="1.15"/>
<rect x="90.43" y="489.11" width="8.82" height="38.39" fill="none" stroke="#808080" stroke-width="0.8"/>
<rect x="99.25" y="488.59" width="8.82" height="38.91" fill="#fff"/>
<path d="M99.2,525.0L102.9,527.5M99.2,522.1L107.0,527.5M99.2,519.3L108.1,525.4M99.2,516.4L108.1,522.6M99.2,513.6L108.1,519.7M99.2,510.7L108.1,516.9M99.2,507.9L108.1,514.0M99.2,505.0L108.1,511.2M99.2,502.2L108.1,508.3M99.2,499.3L108.1,505.5M99.2,496.5L108.1,502.6M99.2,493.6L108.1,499.8M99.2,490.8L108.1,496.9M100.2,488.6L108.1,494.1M104.3,488.6L108.1,491.2" fill="none" stroke="#000" stroke-opacity="0.27" stroke-width="1.15"/>
<rect x="99.25" y="488.59" width="8.82" height="38.91" fill="none" stroke="#808080" stroke-width="0.8"/>
<rect x="108.07" y="481.82" width="8.82" height="45.68" fill="#fff"/>
<path d="M108.1,483.6L110.1,481.8M108.1,487.4L114.3,481.8M108.1,491.2L116.9,483.2M108.1,495.0L116.9,487.0M108.1,498.8L116.9,490.8M108.1,502.6L116.9,494.6M108.1,506.4L116.9,498.4M108.1,510.2L116.9,502.2M108.1,514.0L116.9,506.0M108.1,517.8L116.9,509.8M108.1,521.6L116.9,513.6M108.1,525.4L116.9,517.4M110.0,527.5L116.9,521.2M114.2,527.5L116.9,525.0" fill="none" stroke="#000" stroke-opacity="0.235" stroke-width="1.15"/><path d="M108.1,527.2L108.4,527.5M108.1,523.4L112.6,527.5M108.1,519.6L116.8,527.5M108.1,515.8L116.9,523.8M108.1,512.0L116.9,520.0M108.1,508.2L116.9,516.2M108.1,504.4L116.9,512.4M108.1,500.6L116.9,508.6M108.1,496.8L116.9,504.8M108.1,493.0L116.9,501.0M108.1,489.2L116.9,497.2M108.1,485.4L116.9,493.4M108.3,481.8L116.9,489.6M112.5,481.8L116.9,485.8M116.7,481.8L116.9,482.0" fill="none" stroke="#000" stroke-opacity="0.235" stroke-width="1.15"/>
<rect x="108.07" y="481.82" width="8.82" height="45.68" fill="none" stroke="#808080" stroke-width="0.8"/>
<rect x="125.71" y="484.13" width="8.82" height="43.37" fill="#fff"/>
<rect x="125.71" y="484.13" width="8.82" height="43.37" fill="none" stroke="#808080" stroke-width="0.8"/>
<rect x="134.53" y="478.55" width="8.82" height="48.95" fill="#fff"/>
<path d="M134.5,479.3L135.7,478.6M134.5,482.2L139.8,478.6M134.5,485.0L143.4,478.9M134.5,487.9L143.4,481.8M134.5,490.7L143.4,484.6M134.5,493.6L143.4,487.5M134.5,496.4L143.4,490.3M134.5,499.3L143.4,493.2M134.5,502.1L143.4,496.0M134.5,505.0L143.4,498.9M134.5,507.8L143.4,501.7M134.5,510.7L143.4,504.6M134.5,513.5L143.4,507.4M134.5,516.4L143.4,510.3M134.5,519.2L143.4,513.1M134.5,522.1L143.4,516.0M134.5,524.9L143.4,518.8M134.9,527.5L143.4,521.7M139.0,527.5L143.4,524.5M143.1,527.5L143.4,527.4" fill="none" stroke="#000" stroke-opacity="0.27" stroke-width="1.15"/>
<rect x="134.53" y="478.55" width="8.82" height="48.95" fill="none" stroke="#808080" stroke-width="0.8"/>
<rect x="143.35" y="479.30" width="8.82" height="48.20" fill="#fff"/>
<path d="M143.4,527.1L143.9,527.5M143.4,524.3L148.0,527.5M143.4,521.4L152.1,527.5M143.4,518.6L152.2,524.7M143.4,515.7L152.2,521.9M143.4,512.9L152.2,519.0M143.4,510.0L152.2,516.2M143.4,507.2L152.2,513.3M143.4,504.3L152.2,510.5M143.4,501.5L152.2,507.6M143.4,498.6L152.2,504.8M143.4,495.8L152.2,501.9M143.4,492.9L152.2,499.1M143.4,490.1L152.2,496.2M143.4,487.2L152.2,493.4M143.4,484.4L152.2,490.5M143.4,481.5L152.2,487.7M144.2,479.3L152.2,484.8M148.3,479.3L152.2,482.0" fill="none" stroke="#000" stroke-opacity="0.27" stroke-width="1.15"/>
<rect x="143.35" y="479.30" width="8.82" height="48.20" fill="none" stroke="#808080" stroke-width="0.8"/>
<rect x="152.17" y="484.13" width="8.82" height="43.37" fill="#fff"/>
<path d="M152.2,485.5L153.7,484.1M152.2,489.3L157.9,484.1M152.2,493.1L161.0,485.1M152.2,496.9L161.0,488.9M152.2,500.7L161.0,492.7M152.2,504.5L161.0,496.5M152.2,508.3L161.0,500.3M152.2,512.1L161.0,504.1M152.2,515.9L161.0,507.9M152.2,519.7L161.0,511.7M152.2,523.5L161.0,515.5M152.2,527.3L161.0,519.3M156.2,527.5L161.0,523.1M160.4,527.5L161.0,526.9" fill="none" stroke="#000" stroke-opacity="0.235" stroke-width="1.15"/><path d="M152.2,525.3L154.6,527.5M152.2,521.5L158.8,527.5M152.2,517.7L161.0,525.7M152.2,513.9L161.0,521.9M152.2,510.1L161.0,518.1M152.2,506.3L161.0,514.3M152.2,502.5L161.0,510.5M152.2,498.7L161.0,506.7M152.2,494.9L161.0,502.9M152.2,491.1L161.0,499.1M152.2,487.3L161.0,495.3M152.9,484.1L161.0,491.5M157.1,484.1L161.0,487.7" fill="none" stroke="#000" stroke-opacity="0.235" stroke-width="1.15"/>
<rect x="152.17" y="484.13" width="8.82" height="43.37" fill="none" stroke="#808080" stroke-width="0.8"/>
<rect x="169.81" y="416.62" width="8.82" height="110.88" fill="#fff"/>
<rect x="169.81" y="416.62" width="8.82" height="110.88" fill="none" stroke="#808080" stroke-width="0.8"/>
<rect x="178.63" y="402.34" width="8.82" height="125.16" fill="#fff"/>
<path d="M178.6,403.1L179.7,402.3M178.6,405.9L183.8,402.3M178.6,408.8L187.4,402.6M178.6,411.6L187.4,405.5M178.6,414.5L187.4,408.3M178.6,417.3L187.4,411.2M178.6,420.2L187.4,414.0M178.6,423.0L187.4,416.9M178.6,425.9L187.4,419.7M178.6,428.7L187.4,422.6M178.6,431.6L187.4,425.4M178.6,434.4L187.4,428.3M178.6,437.3L187.4,431.1M178.6,440.1L187.4,434.0M178.6,443.0L187.4,436.8M178.6,445.8L187.4,439.7M178.6,448.7L187.4,442.5M178.6,451.5L187.4,445.4M178.6,454.4L187.4,448.2M178.6,457.2L187.4,451.1M178.6,460.1L187.4,453.9M178.6,462.9L187.4,456.8M178.6,465.8L187.4,459.6M178.6,468.6L187.4,462.5M178.6,471.5L187.4,465.3M178.6,474.3L187.4,468.2M178.6,477.2L187.4,471.0M178.6,480.0L187.4,473.9M178.6,482.9L187.4,476.7M178.6,485.7L187.4,479.6M178.6,488.6L187.4,482.4M178.6,491.4L187.4,485.3M178.6,494.3L187.4,488.1M178.6,497.1L187.4,491.0M178.6,500.0L187.4,493.8M178.6,502.8L187.4,496.7M178.6,505.7L187.4,499.5M178.6,508.5L187.4,502.4M178.6,511.4L187.4,505.2M178.6,514.2L187.4,508.1M178.6,517.1L187.4,510.9M178.6,519.9L187.4,513.8M178.6,522.8L187.4,516.6M178.6,525.6L187.4,519.5M180.0,527.5L187.4,522.3M184.1,527.5L187.4,525.2" fill="none" stroke="#000" stroke-opacity="0.27" stroke-width="1.15"/>
<rect x="178.63" y="402.34" width="8.82" height="125.16" fill="none" stroke="#808080" stroke-width="0.8"/>
<rect x="187.45" y="404.13" width="8.82" height="123.37" fill="#fff"/>
<path d="M187.4,526.5L189.0,527.5M187.4,523.6L193.1,527.5M187.4,520.8L196.3,526.9M187.4,517.9L196.3,524.0M187.4,515.1L196.3,521.2M187.4,512.2L196.3,518.3M187.4,509.4L196.3,515.5M187.4,506.5L196.3,512.6M187.4,503.7L196.3,509.8M187.4,500.8L196.3,506.9M187.4,498.0L196.3,504.1M187.4,495.1L196.3,501.2M187.4,492.3L196.3,498.4M187.4,489.4L196.3,495.5M187.4,486.6L196.3,492.7M187.4,483.7L196.3,489.8M187.4,480.9L196.3,487.0M187.4,478.0L196.3,484.1M187.4,475.2L196.3,481.3M187.4,472.3L196.3,478.4M187.4,469.5L196.3,475.6M187.4,466.6L196.3,472.7M187.4,463.8L196.3,469.9M187.4,460.9L196.3,467.0M187.4,458.1L196.3,464.2M187.4,455.2L196.3,461.3M187.4,452.4L196.3,458.5M187.4,449.5L196.3,455.6M187.4,446.7L196.3,452.8M187.4,443.8L196.3,449.9M187.4,441.0L196.3,447.1M187.4,438.1L196.3,444.2M187.4,435.3L196.3,441.4M187.4,432.4L196.3,438.5M187.4,429.6L196.3,435.7M187.4,426.7L196.3,432.8M187.4,423.9L196.3,430.0M187.4,421.0L196.3,427.1M187.4,418.2L196.3,424.3M187.4,415.3L196.3,421.4M187.4,412.5L196.3,418.6M187.4,409.6L196.3,415.7M187.4,406.8L196.3,412.9M187.8,404.1L196.3,410.0M191.9,404.1L196.3,407.2M196.0,404.1L196.3,404.3" fill="none" stroke="#000" stroke-opacity="0.27" stroke-width="1.15"/>
<rect x="187.45" y="404.13" width="8.82" height="123.37" fill="none" stroke="#808080" stroke-width="0.8"/>
<rect x="196.27" y="416.62" width="8.82" height="110.88" fill="#fff"/>
<path d="M196.3,419.0L198.9,416.6M196.3,422.8L203.1,416.6M196.3,426.6L205.1,418.6M196.3,430.4L205.1,422.4M196.3,434.2L205.1,426.2M196.3,438.0L205.1,430.0M196.3,441.8L205.1,433.8M196.3,445.6L205.1,437.6M196.3,449.4L205.1,441.4M196.3,453.2L205.1,445.2M196.3,457.0L205.1,449.0M196.3,460.8L205.1,452.8M196.3,464.6L205.1,456.6M196.3,468.4L205.1,460.4M196.3,472.2L205.1,464.2M196.3,476.0L205.1,468.0M196.3,479.8L205.1,471.8M196.3,483.6L205.1,475.6M196.3,487.4L205.1,479.4M196.3,491.2L205.1,483.2M196.3,495.0L205.1,487.0M196.3,498.8L205.1,490.8M196.3,502.6L205.1,494.6M196.3,506.4L205.1,498.4M196.3,510.2L205.1,502.2M196.3,514.0L205.1,506.0M196.3,517.8L205.1,509.8M196.3,521.6L205.1,513.6M196.3,525.4L205.1,517.4M198.2,527.5L205.1,521.2M202.4,527.5L205.1,525.0" fill="none" stroke="#000" stroke-opacity="0.235" stroke-width="1.15"/><path d="M196.3,527.2L196.6,527.5M196.3,523.4L200.8,527.5M196.3,519.6L205.0,527.5M196.3,515.8L205.1,523.8M196.3,512.0L205.1,520.0M196.3,508.2L205.1,516.2M196.3,504.4L205.1,512.4M196.3,500.6L205.1,508.6M196.3,496.8L205.1,504.8M196.3,493.0L205.1,501.0M196.3,489.2L205.1,497.2M196.3,485.4L205.1,493.4M196.3,481.6L205.1,489.6M196.3,477.8L205.1,485.8M196.3,474.0L205.1,482.0M196.3,470.2L205.1,478.2M196.3,466.4L205.1,474.4M196.3,462.6L205.1,470.6M196.3,458.8L205.1,466.8M196.3,455.0L205.1,463.0M196.3,451.2L205.1,459.2M196.3,447.4L205.1,455.4M196.3,443.6L205.1,451.6M196.3,439.8L205.1,447.8M196.3,436.0L205.1,444.0M196.3,432.2L205.1,440.2M196.3,428.4L205.1,436.4M196.3,424.6L205.1,432.6M196.3,420.8L205.1,428.8M196.3,417.0L205.1,425.0M200.1,416.6L205.1,421.2M204.3,416.6L205.1,417.4" fill="none" stroke="#000" stroke-opacity="0.235" stroke-width="1.15"/>
<rect x="196.27" y="416.62" width="8.82" height="110.88" fill="none" stroke="#808080" stroke-width="0.8"/>
<path d="M33.10,385.30 V527.50 H209.50" fill="none" stroke="#333" stroke-width="1.25"/>
<path d="M30.60,527.50 H33.10 M31.70,520.05 H33.10 M30.60,512.60 H33.10 M31.70,505.15 H33.10 M30.60,497.70 H33.10 M31.70,490.25 H33.10 M30.60,482.80 H33.10 M31.70,475.35 H33.10 M30.60,467.90 H33.10 M31.70,460.45 H33.10 M30.60,453.00 H33.10 M31.70,445.55 H33.10 M30.60,438.10 H33.10 M31.70,430.65 H33.10 M30.60,423.20 H33.10 M31.70,415.75 H33.10 M30.60,408.30 H33.10 M31.70,400.85 H33.10 M30.60,393.40 H33.10 M31.70,385.95 H33.10 M55.15,527.50 V530.00 M77.20,527.50 V528.90 M99.25,527.50 V530.00 M121.30,527.50 V528.90 M143.35,527.50 V530.00 M165.40,527.50 V528.90 M187.45,527.50 V530.00" fill="none" stroke="#333" stroke-width="0.95"/>
<text class="a" x="28.30" y="529.45" font-size="5.5" text-anchor="end">0</text>
<text class="a" x="28.30" y="514.55" font-size="5.5" text-anchor="end">2,000</text>
<text class="a" x="28.30" y="499.65" font-size="5.5" text-anchor="end">4,000</text>
<text class="a" x="28.30" y="484.75" font-size="5.5" text-anchor="end">6,000</text>
<text class="a" x="28.30" y="469.85" font-size="5.5" text-anchor="end">8,000</text>
<text class="a" x="28.30" y="454.95" font-size="5.5" text-anchor="end">10,000</text>
<text class="a" x="28.30" y="440.05" font-size="5.5" text-anchor="end">12,000</text>
<text class="a" x="28.30" y="425.15" font-size="5.5" text-anchor="end">14,000</text>
<text class="a" x="28.30" y="410.25" font-size="5.5" text-anchor="end">16,000</text>
<text class="a" x="28.30" y="395.35" font-size="5.5" text-anchor="end">18,000</text>
<text class="s d" x="53.75" y="537.00" font-size="5.60">1</text>
<text class="s d" x="97.85" y="537.00" font-size="5.60">2</text>
<text class="s d" x="141.95" y="537.00" font-size="5.60">3</text>
<text class="s d" x="186.05" y="537.00" font-size="5.60">4</text>
<text x="101.20" y="546.50"><tspan class="m" font-size="7.70" textLength="39.60" lengthAdjust="spacingAndGlyphs">Node Labels</tspan></text>
<text x="100.85" y="374.50"><tspan class="m" font-size="7.70" textLength="28.80" lengthAdjust="spacingAndGlyphs">TaskNum=</tspan><tspan class="s e" font-size="7.20">150</tspan></text>
<text class="a" transform="translate(8.70,463.40) rotate(-90)" font-size="6.35" text-anchor="middle">Work Time (min)</text>
<rect x="35.00" y="386.30" width="61.00" height="32.90" fill="#fff" stroke="#808080" stroke-width="0.8"/>
<rect x="36.20" y="387.95" width="13.9" height="6.20" fill="#fff"/>

<rect x="36.20" y="387.95" width="13.9" height="6.20" fill="none" stroke="#7a7a7a" stroke-width="0.75"/>
<text x="53.90" y="393.31"><tspan class="m" font-size="7.70" textLength="28.80" lengthAdjust="spacingAndGlyphs">FCFS_PSO</tspan></text>
<rect x="36.20" y="395.88" width="13.9" height="6.20" fill="#fff"/>
<path d="M36.2,396.6L37.3,395.9M36.2,399.5L41.4,395.9M36.6,402.1L45.5,395.9M40.7,402.1L49.6,395.9M44.8,402.1L50.1,398.4M48.9,402.1L50.1,401.2" fill="none" stroke="#000" stroke-opacity="0.34" stroke-width="1.15"/>
<rect x="36.20" y="395.88" width="13.9" height="6.20" fill="none" stroke="#7a7a7a" stroke-width="0.75"/>
<text x="53.90" y="401.54"><tspan class="m" font-size="7.70" textLength="25.20" lengthAdjust="spacingAndGlyphs">SJF_PSO</tspan></text>
<rect x="36.20" y="403.82" width="13.9" height="6.20" fill="#fff"/>
<path d="M36.2,409.9L36.3,410.0M36.2,407.1L40.4,410.0M36.2,404.2L44.5,410.0M39.7,403.8L48.6,410.0M43.8,403.8L50.1,408.2M47.9,403.8L50.1,405.3" fill="none" stroke="#000" stroke-opacity="0.34" stroke-width="1.15"/>
<rect x="36.20" y="403.82" width="13.9" height="6.20" fill="none" stroke="#7a7a7a" stroke-width="0.75"/>
<text x="53.90" y="409.76"><tspan class="m" font-size="7.70" textLength="39.60" lengthAdjust="spacingAndGlyphs">MAX_MAX_PSO</tspan></text>
<rect x="36.20" y="411.75" width="13.9" height="6.20" fill="#fff"/>
<path d="M36.2,411.8L36.3,411.8M36.2,415.6L40.5,411.8M37.9,417.9L44.7,411.8M42.1,417.9L48.9,411.8M46.3,417.9L50.1,414.5" fill="none" stroke="#000" stroke-opacity="0.34" stroke-width="1.15"/><path d="M36.2,416.6L37.7,417.9M36.2,412.8L41.9,417.9M39.3,411.8L46.1,417.9M43.5,411.8L50.1,417.7M47.7,411.8L50.1,413.9" fill="none" stroke="#000" stroke-opacity="0.34" stroke-width="1.15"/>
<rect x="36.20" y="411.75" width="13.9" height="6.20" fill="none" stroke="#7a7a7a" stroke-width="0.75"/>
<text x="53.90" y="417.99"><tspan class="m" font-size="7.70" textLength="10.80" lengthAdjust="spacingAndGlyphs">PSO</tspan></text>
</g>
<g>
<rect x="260.87" y="423.85" width="8.54" height="103.05" fill="#fff"/>
<rect x="260.87" y="423.85" width="8.54" height="103.05" fill="none" stroke="#808080" stroke-width="0.8"/>
<rect x="269.41" y="426.14" width="8.54" height="100.76" fill="#fff"/>
<path d="M269.4,428.3L272.6,426.1M269.4,431.2L276.7,426.1M269.4,434.0L278.0,428.1M269.4,436.9L278.0,430.9M269.4,439.7L278.0,433.8M269.4,442.6L278.0,436.6M269.4,445.4L278.0,439.5M269.4,448.3L278.0,442.3M269.4,451.1L278.0,445.2M269.4,454.0L278.0,448.0M269.4,456.8L278.0,450.9M269.4,459.7L278.0,453.7M269.4,462.5L278.0,456.6M269.4,465.4L278.0,459.4M269.4,468.2L278.0,462.3M269.4,471.1L278.0,465.1M269.4,473.9L278.0,468.0M269.4,476.8L278.0,470.8M269.4,479.6L278.0,473.7M269.4,482.5L278.0,476.5M269.4,485.3L278.0,479.4M269.4,488.2L278.0,482.2M269.4,491.0L278.0,485.1M269.4,493.9L278.0,487.9M269.4,496.7L278.0,490.8M269.4,499.6L278.0,493.6M269.4,502.4L278.0,496.5M269.4,505.3L278.0,499.3M269.4,508.1L278.0,502.2M269.4,511.0L278.0,505.0M269.4,513.8L278.0,507.9M269.4,516.7L278.0,510.7M269.4,519.5L278.0,513.6M269.4,522.4L278.0,516.4M269.4,525.2L278.0,519.3M271.1,526.9L278.0,522.1M275.2,526.9L278.0,525.0" fill="none" stroke="#000" stroke-opacity="0.27" stroke-width="1.15"/>
<rect x="269.41" y="426.14" width="8.54" height="100.76" fill="none" stroke="#808080" stroke-width="0.8"/>
<rect x="277.95" y="442.17" width="8.54" height="84.73" fill="#fff"/>
<path d="M277.9,526.7L278.3,526.9M277.9,523.8L282.4,526.9M277.9,521.0L286.5,526.9M277.9,518.1L286.5,524.0M277.9,515.3L286.5,521.2M277.9,512.4L286.5,518.3M277.9,509.6L286.5,515.5M277.9,506.7L286.5,512.6M277.9,503.9L286.5,509.8M277.9,501.0L286.5,506.9M277.9,498.2L286.5,504.1M277.9,495.3L286.5,501.2M277.9,492.5L286.5,498.4M277.9,489.6L286.5,495.5M277.9,486.8L286.5,492.7M277.9,483.9L286.5,489.8M277.9,481.1L286.5,487.0M277.9,478.2L286.5,484.1M277.9,475.4L286.5,481.3M277.9,472.5L286.5,478.4M277.9,469.7L286.5,475.6M277.9,466.8L286.5,472.7M277.9,464.0L286.5,469.9M277.9,461.1L286.5,467.0M277.9,458.3L286.5,464.2M277.9,455.4L286.5,461.3M277.9,452.6L286.5,458.5M277.9,449.7L286.5,455.6M277.9,446.9L286.5,452.8M277.9,444.0L286.5,449.9M279.4,442.2L286.5,447.1M283.5,442.2L286.5,444.2" fill="none" stroke="#000" stroke-opacity="0.27" stroke-width="1.15"/>
<rect x="277.95" y="442.17" width="8.54" height="84.73" fill="none" stroke="#808080" stroke-width="0.8"/>
<rect x="286.49" y="428.43" width="8.54" height="98.47" fill="#fff"/>
<path d="M286.5,428.6L286.7,428.4M286.5,432.4L290.9,428.4M286.5,436.2L295.0,428.5M286.5,440.0L295.0,432.3M286.5,443.8L295.0,436.1M286.5,447.6L295.0,439.9M286.5,451.4L295.0,443.7M286.5,455.2L295.0,447.5M286.5,459.0L295.0,451.3M286.5,462.8L295.0,455.1M286.5,466.6L295.0,458.9M286.5,470.4L295.0,462.7M286.5,474.2L295.0,466.5M286.5,478.0L295.0,470.3M286.5,481.8L295.0,474.1M286.5,485.6L295.0,477.9M286.5,489.4L295.0,481.7M286.5,493.2L295.0,485.5M286.5,497.0L295.0,489.3M286.5,500.8L295.0,493.1M286.5,504.6L295.0,496.9M286.5,508.4L295.0,500.7M286.5,512.2L295.0,504.5M286.5,516.0L295.0,508.3M286.5,519.8L295.0,512.1M286.5,523.6L295.0,515.9M287.0,526.9L295.0,519.7M291.2,526.9L295.0,523.5" fill="none" stroke="#000" stroke-opacity="0.235" stroke-width="1.15"/><path d="M286.5,525.2L288.4,526.9M286.5,521.4L292.6,526.9M286.5,517.6L295.0,525.3M286.5,513.8L295.0,521.5M286.5,510.0L295.0,517.7M286.5,506.2L295.0,513.9M286.5,502.4L295.0,510.1M286.5,498.6L295.0,506.3M286.5,494.8L295.0,502.5M286.5,491.0L295.0,498.7M286.5,487.2L295.0,494.9M286.5,483.4L295.0,491.1M286.5,479.6L295.0,487.3M286.5,475.8L295.0,483.5M286.5,472.0L295.0,479.7M286.5,468.2L295.0,475.9M286.5,464.4L295.0,472.1M286.5,460.6L295.0,468.3M286.5,456.8L295.0,464.5M286.5,453.0L295.0,460.7M286.5,449.2L295.0,456.9M286.5,445.4L295.0,453.1M286.5,441.6L295.0,449.3M286.5,437.8L295.0,445.5M286.5,434.0L295.0,441.7M286.5,430.2L295.0,437.9M288.7,428.4L295.0,434.1M292.9,428.4L295.0,430.3" fill="none" stroke="#000" stroke-opacity="0.235" stroke-width="1.15"/>
<rect x="286.49" y="428.43" width="8.54" height="98.47" fill="none" stroke="#808080" stroke-width="0.8"/>
<rect x="303.57" y="403.24" width="8.54" height="123.66" fill="#fff"/>
<rect x="303.57" y="403.24" width="8.54" height="123.66" fill="none" stroke="#808080" stroke-width="0.8"/>
<rect x="312.11" y="419.27" width="8.54" height="107.63" fill="#fff"/>
<path d="M312.1,421.4L315.2,419.3M312.1,424.3L319.3,419.3M312.1,427.1L320.7,421.2M312.1,430.0L320.7,424.1M312.1,432.8L320.7,426.9M312.1,435.7L320.7,429.8M312.1,438.5L320.7,432.6M312.1,441.4L320.7,435.5M312.1,444.2L320.7,438.3M312.1,447.1L320.7,441.2M312.1,449.9L320.7,444.0M312.1,452.8L320.7,446.9M312.1,455.6L320.7,449.7M312.1,458.5L320.7,452.6M312.1,461.3L320.7,455.4M312.1,464.2L320.7,458.3M312.1,467.0L320.7,461.1M312.1,469.9L320.7,464.0M312.1,472.7L320.7,466.8M312.1,475.6L320.7,469.7M312.1,478.4L320.7,472.5M312.1,481.3L320.7,475.4M312.1,484.1L320.7,478.2M312.1,487.0L320.7,481.1M312.1,489.8L320.7,483.9M312.1,492.7L320.7,486.8M312.1,495.5L320.7,489.6M312.1,498.4L320.7,492.5M312.1,501.2L320.7,495.3M312.1,504.1L320.7,498.2M312.1,506.9L320.7,501.0M312.1,509.8L320.7,503.9M312.1,512.6L320.7,506.7M312.1,515.5L320.7,509.6M312.1,518.3L320.7,512.4M312.1,521.2L320.7,515.3M312.1,524.0L320.7,518.1M312.1,526.9L320.7,521.0M316.2,526.9L320.7,523.8M320.3,526.9L320.7,526.7" fill="none" stroke="#000" stroke-opacity="0.27" stroke-width="1.15"/>
<rect x="312.11" y="419.27" width="8.54" height="107.63" fill="none" stroke="#808080" stroke-width="0.8"/>
<rect x="320.65" y="412.40" width="8.54" height="114.50" fill="#fff"/>
<path d="M320.6,525.0L323.4,526.9M320.6,522.1L327.5,526.9M320.6,519.3L329.2,525.2M320.6,516.4L329.2,522.4M320.6,513.6L329.2,519.5M320.6,510.7L329.2,516.7M320.6,507.9L329.2,513.8M320.6,505.0L329.2,511.0M320.6,502.2L329.2,508.1M320.6,499.3L329.2,505.3M320.6,496.5L329.2,502.4M320.6,493.6L329.2,499.6M320.6,490.8L329.2,496.7M320.6,487.9L329.2,493.9M320.6,485.1L329.2,491.0M320.6,482.2L329.2,488.2M320.6,479.4L329.2,485.3M320.6,476.5L329.2,482.5M320.6,473.7L329.2,479.6M320.6,470.8L329.2,476.8M320.6,468.0L329.2,473.9M320.6,465.1L329.2,471.1M320.6,462.3L329.2,468.2M320.6,459.4L329.2,465.4M320.6,456.6L329.2,462.5M320.6,453.7L329.2,459.7M320.6,450.9L329.2,456.8M320.6,448.0L329.2,454.0M320.6,445.2L329.2,451.1M320.6,442.3L329.2,448.3M320.6,439.5L329.2,445.4M320.6,436.6L329.2,442.6M320.6,433.8L329.2,439.7M320.6,430.9L329.2,436.9M320.6,428.1L329.2,434.0M320.6,425.2L329.2,431.2M320.6,422.4L329.2,428.3M320.6,419.5L329.2,425.5M320.6,416.7L329.2,422.6M320.6,413.8L329.2,419.8M322.7,412.4L329.2,416.9M326.8,412.4L329.2,414.1" fill="none" stroke="#000" stroke-opacity="0.27" stroke-width="1.15"/>
<rect x="320.65" y="412.40" width="8.54" height="114.50" fill="none" stroke="#808080" stroke-width="0.8"/>
<rect x="329.19" y="412.40" width="8.54" height="114.50" fill="#fff"/>
<path d="M329.2,412.8L329.6,412.4M329.2,416.6L333.8,412.4M329.2,420.4L337.7,412.6M329.2,424.2L337.7,416.4M329.2,428.0L337.7,420.2M329.2,431.8L337.7,424.0M329.2,435.6L337.7,427.8M329.2,439.4L337.7,431.6M329.2,443.2L337.7,435.4M329.2,447.0L337.7,439.2M329.2,450.8L337.7,443.0M329.2,454.6L337.7,446.8M329.2,458.4L337.7,450.6M329.2,462.2L337.7,454.4M329.2,466.0L337.7,458.2M329.2,469.8L337.7,462.0M329.2,473.6L337.7,465.8M329.2,477.4L337.7,469.6M329.2,481.2L337.7,473.4M329.2,485.0L337.7,477.2M329.2,488.8L337.7,481.0M329.2,492.6L337.7,484.8M329.2,496.4L337.7,488.6M329.2,500.2L337.7,492.4M329.2,504.0L337.7,496.2M329.2,507.8L337.7,500.0M329.2,511.6L337.7,503.8M329.2,515.4L337.7,507.6M329.2,519.2L337.7,511.4M329.2,523.0L337.7,515.2M329.2,526.8L337.7,519.0M333.2,526.9L337.7,522.8M337.4,526.9L337.7,526.6" fill="none" stroke="#000" stroke-opacity="0.235" stroke-width="1.15"/><path d="M329.2,525.8L330.4,526.9M329.2,522.0L334.6,526.9M329.2,518.2L337.7,526.0M329.2,514.4L337.7,522.2M329.2,510.6L337.7,518.4M329.2,506.8L337.7,514.6M329.2,503.0L337.7,510.8M329.2,499.2L337.7,507.0M329.2,495.4L337.7,503.2M329.2,491.6L337.7,499.4M329.2,487.8L337.7,495.6M329.2,484.0L337.7,491.8M329.2,480.2L337.7,488.0M329.2,476.4L337.7,484.2M329.2,472.6L337.7,480.4M329.2,468.8L337.7,476.6M329.2,465.0L337.7,472.8M329.2,461.2L337.7,469.0M329.2,457.4L337.7,465.2M329.2,453.6L337.7,461.4M329.2,449.8L337.7,457.6M329.2,446.0L337.7,453.8M329.2,442.2L337.7,450.0M329.2,438.4L337.7,446.2M329.2,434.6L337.7,442.4M329.2,430.8L337.7,438.6M329.2,427.0L337.7,434.8M329.2,423.2L337.7,431.0M329.2,419.4L337.7,427.2M329.2,415.6L337.7,423.4M329.8,412.4L337.7,419.6M334.0,412.4L337.7,415.8" fill="none" stroke="#000" stroke-opacity="0.235" stroke-width="1.15"/>
<rect x="329.19" y="412.40" width="8.54" height="114.50" fill="none" stroke="#808080" stroke-width="0.8"/>
<rect x="346.27" y="451.33" width="8.54" height="75.57" fill="#fff"/>
<rect x="346.27" y="451.33" width="8.54" height="75.57" fill="none" stroke="#808080" stroke-width="0.8"/>
<rect x="354.81" y="444.46" width="8.54" height="82.44" fill="#fff"/>
<path d="M354.8,445.9L356.9,444.5M354.8,448.8L361.0,444.5M354.8,451.6L363.4,445.7M354.8,454.5L363.4,448.5M354.8,457.3L363.4,451.4M354.8,460.2L363.4,454.2M354.8,463.0L363.4,457.1M354.8,465.9L363.4,459.9M354.8,468.7L363.4,462.8M354.8,471.6L363.4,465.6M354.8,474.4L363.4,468.5M354.8,477.3L363.4,471.3M354.8,480.1L363.4,474.2M354.8,483.0L363.4,477.0M354.8,485.8L363.4,479.9M354.8,488.7L363.4,482.7M354.8,491.5L363.4,485.6M354.8,494.4L363.4,488.4M354.8,497.2L363.4,491.3M354.8,500.1L363.4,494.1M354.8,502.9L363.4,497.0M354.8,505.8L363.4,499.8M354.8,508.6L363.4,502.7M354.8,511.5L363.4,505.5M354.8,514.3L363.4,508.4M354.8,517.2L363.4,511.2M354.8,520.0L363.4,514.1M354.8,522.9L363.4,516.9M354.8,525.7L363.4,519.8M357.2,526.9L363.4,522.6M361.3,526.9L363.4,525.5" fill="none" stroke="#000" stroke-opacity="0.27" stroke-width="1.15"/>
<rect x="354.81" y="444.46" width="8.54" height="82.44" fill="none" stroke="#808080" stroke-width="0.8"/>
<rect x="363.35" y="430.72" width="8.54" height="96.18" fill="#fff"/>
<path d="M363.4,526.2L364.4,526.9M363.4,523.3L368.5,526.9M363.4,520.5L371.9,526.4M363.4,517.6L371.9,523.6M363.4,514.8L371.9,520.7M363.4,511.9L371.9,517.9M363.4,509.1L371.9,515.0M363.4,506.2L371.9,512.2M363.4,503.4L371.9,509.3M363.4,500.5L371.9,506.5M363.4,497.7L371.9,503.6M363.4,494.8L371.9,500.8M363.4,492.0L371.9,497.9M363.4,489.1L371.9,495.1M363.4,486.3L371.9,492.2M363.4,483.4L371.9,489.4M363.4,480.6L371.9,486.5M363.4,477.7L371.9,483.7M363.4,474.9L371.9,480.8M363.4,472.0L371.9,478.0M363.4,469.2L371.9,475.1M363.4,466.3L371.9,472.3M363.4,463.5L371.9,469.4M363.4,460.6L371.9,466.6M363.4,457.8L371.9,463.7M363.4,454.9L371.9,460.9M363.4,452.1L371.9,458.0M363.4,449.2L371.9,455.2M363.4,446.4L371.9,452.3M363.4,443.5L371.9,449.5M363.4,440.7L371.9,446.6M363.4,437.8L371.9,443.8M363.4,435.0L371.9,440.9M363.4,432.1L371.9,438.1M365.4,430.7L371.9,435.2M369.5,430.7L371.9,432.4" fill="none" stroke="#000" stroke-opacity="0.27" stroke-width="1.15"/>
<rect x="363.35" y="430.72" width="8.54" height="96.18" fill="none" stroke="#808080" stroke-width="0.8"/>
<rect x="371.89" y="451.33" width="8.54" height="75.57" fill="#fff"/>
<path d="M371.9,453.9L374.8,451.3M371.9,457.7L379.0,451.3M371.9,461.5L380.4,453.8M371.9,465.3L380.4,457.6M371.9,469.1L380.4,461.4M371.9,472.9L380.4,465.2M371.9,476.7L380.4,469.0M371.9,480.5L380.4,472.8M371.9,484.3L380.4,476.6M371.9,488.1L380.4,480.4M371.9,491.9L380.4,484.2M371.9,495.7L380.4,488.0M371.9,499.5L380.4,491.8M371.9,503.3L380.4,495.6M371.9,507.1L380.4,499.4M371.9,510.9L380.4,503.2M371.9,514.7L380.4,507.0M371.9,518.5L380.4,510.8M371.9,522.3L380.4,514.6M371.9,526.1L380.4,518.4M375.2,526.9L380.4,522.2M379.4,526.9L380.4,526.0" fill="none" stroke="#000" stroke-opacity="0.235" stroke-width="1.15"/><path d="M371.9,526.5L372.4,526.9M371.9,522.7L376.6,526.9M371.9,518.9L380.4,526.6M371.9,515.1L380.4,522.8M371.9,511.3L380.4,519.0M371.9,507.5L380.4,515.2M371.9,503.7L380.4,511.4M371.9,499.9L380.4,507.6M371.9,496.1L380.4,503.8M371.9,492.3L380.4,500.0M371.9,488.5L380.4,496.2M371.9,484.7L380.4,492.4M371.9,480.9L380.4,488.6M371.9,477.1L380.4,484.8M371.9,473.3L380.4,481.0M371.9,469.5L380.4,477.2M371.9,465.7L380.4,473.4M371.9,461.9L380.4,469.6M371.9,458.1L380.4,465.8M371.9,454.3L380.4,462.0M372.8,451.3L380.4,458.2M377.0,451.3L380.4,454.4" fill="none" stroke="#000" stroke-opacity="0.235" stroke-width="1.15"/>
<rect x="371.89" y="451.33" width="8.54" height="75.57" fill="none" stroke="#808080" stroke-width="0.8"/>
<rect x="388.97" y="485.68" width="8.54" height="41.22" fill="#fff"/>
<rect x="388.97" y="485.68" width="8.54" height="41.22" fill="none" stroke="#808080" stroke-width="0.8"/>
<rect x="397.51" y="474.23" width="8.54" height="52.67" fill="#fff"/>
<path d="M397.5,476.1L400.2,474.2M397.5,478.9L404.3,474.2M397.5,481.8L406.1,475.8M397.5,484.6L406.1,478.7M397.5,487.5L406.1,481.5M397.5,490.3L406.1,484.4M397.5,493.2L406.1,487.2M397.5,496.0L406.1,490.1M397.5,498.9L406.1,492.9M397.5,501.7L406.1,495.8M397.5,504.6L406.1,498.6M397.5,507.4L406.1,501.5M397.5,510.3L406.1,504.3M397.5,513.1L406.1,507.2M397.5,516.0L406.1,510.0M397.5,518.8L406.1,512.9M397.5,521.7L406.1,515.7M397.5,524.5L406.1,518.6M398.2,526.9L406.1,521.4M402.3,526.9L406.1,524.3" fill="none" stroke="#000" stroke-opacity="0.27" stroke-width="1.15"/>
<rect x="397.51" y="474.23" width="8.54" height="52.67" fill="none" stroke="#808080" stroke-width="0.8"/>
<rect x="406.05" y="478.81" width="8.54" height="48.09" fill="#fff"/>
<path d="M406.1,524.5L409.5,526.9M406.1,521.7L413.6,526.9M406.1,518.8L414.6,524.7M406.1,516.0L414.6,521.9M406.1,513.1L414.6,519.0M406.1,510.3L414.6,516.2M406.1,507.4L414.6,513.3M406.1,504.6L414.6,510.5M406.1,501.7L414.6,507.6M406.1,498.9L414.6,504.8M406.1,496.0L414.6,501.9M406.1,493.2L414.6,499.1M406.1,490.3L414.6,496.2M406.1,487.5L414.6,493.4M406.1,484.6L414.6,490.5M406.1,481.8L414.6,487.7M406.1,478.9L414.6,484.8M410.0,478.8L414.6,482.0M414.1,478.8L414.6,479.1" fill="none" stroke="#000" stroke-opacity="0.27" stroke-width="1.15"/>
<rect x="406.05" y="478.81" width="8.54" height="48.09" fill="none" stroke="#808080" stroke-width="0.8"/>
<rect x="414.59" y="471.94" width="8.54" height="54.96" fill="#fff"/>
<path d="M414.6,472.3L415.0,471.9M414.6,476.1L419.2,471.9M414.6,479.9L423.1,472.2M414.6,483.7L423.1,476.0M414.6,487.5L423.1,479.8M414.6,491.3L423.1,483.6M414.6,495.1L423.1,487.4M414.6,498.9L423.1,491.2M414.6,502.7L423.1,495.0M414.6,506.5L423.1,498.8M414.6,510.3L423.1,502.6M414.6,514.1L423.1,506.4M414.6,517.9L423.1,510.2M414.6,521.7L423.1,514.0M414.6,525.5L423.1,517.8M417.2,526.9L423.1,521.6M421.4,526.9L423.1,525.4" fill="none" stroke="#000" stroke-opacity="0.235" stroke-width="1.15"/><path d="M414.6,523.3L418.6,526.9M414.6,519.5L422.8,526.9M414.6,515.7L423.1,523.4M414.6,511.9L423.1,519.6M414.6,508.1L423.1,515.8M414.6,504.3L423.1,512.0M414.6,500.5L423.1,508.2M414.6,496.7L423.1,504.4M414.6,492.9L423.1,500.6M414.6,489.1L423.1,496.8M414.6,485.3L423.1,493.0M414.6,481.5L423.1,489.2M414.6,477.7L423.1,485.4M414.6,473.9L423.1,481.6M416.6,471.9L423.1,477.8M420.8,471.9L423.1,474.0" fill="none" stroke="#000" stroke-opacity="0.235" stroke-width="1.15"/>
<rect x="414.59" y="471.94" width="8.54" height="54.96" fill="none" stroke="#808080" stroke-width="0.8"/>
<path d="M256.70,389.50 V526.90 H427.70" fill="none" stroke="#333" stroke-width="1.25"/>
<path d="M254.20,526.90 H256.70 M255.30,515.45 H256.70 M254.20,504.00 H256.70 M255.30,492.55 H256.70 M254.20,481.10 H256.70 M255.30,469.65 H256.70 M254.20,458.20 H256.70 M255.30,446.75 H256.70 M254.20,435.30 H256.70 M255.30,423.85 H256.70 M254.20,412.40 H256.70 M255.30,400.95 H256.70 M254.20,389.50 H256.70 M277.95,526.90 V529.40 M299.30,526.90 V528.30 M320.65,526.90 V529.40 M342.00,526.90 V528.30 M363.35,526.90 V529.40 M384.70,526.90 V528.30 M406.05,526.90 V529.40" fill="none" stroke="#333" stroke-width="0.95"/>
<text class="a" x="252.00" y="528.85" font-size="5.35" text-anchor="end">0</text>
<text class="a" x="252.00" y="505.95" font-size="5.35" text-anchor="end">10</text>
<text class="a" x="252.00" y="483.05" font-size="5.35" text-anchor="end">20</text>
<text class="a" x="252.00" y="460.15" font-size="5.35" text-anchor="end">30</text>
<text class="a" x="252.00" y="437.25" font-size="5.35" text-anchor="end">40</text>
<text class="a" x="252.00" y="414.35" font-size="5.35" text-anchor="end">50</text>
<text class="a" x="252.00" y="391.45" font-size="5.35" text-anchor="end">60</text>
<text class="s d" x="276.55" y="536.00" font-size="5.60">1</text>
<text class="s d" x="319.25" y="536.00" font-size="5.60">2</text>
<text class="s d" x="361.95" y="536.00" font-size="5.60">3</text>
<text class="s d" x="404.65" y="536.00" font-size="5.60">4</text>
<text x="322.20" y="545.50"><tspan class="m" font-size="7.70" textLength="39.60" lengthAdjust="spacingAndGlyphs">Node Labels</tspan></text>
<text x="316.85" y="377.30"><tspan class="m" font-size="7.70" textLength="28.80" lengthAdjust="spacingAndGlyphs">TaskNum=</tspan><tspan class="s e" font-size="7.20">150</tspan></text>
<text class="m" transform="translate(243.30,457.90) rotate(-90) scale(0.7792,1)" font-size="7.70" text-anchor="middle">Number Of Node&#39;s Tasks</text>
<rect x="367.60" y="387.10" width="59.40" height="32.50" fill="#fff" stroke="#808080" stroke-width="0.8"/>
<rect x="368.80" y="388.75" width="13.9" height="6.20" fill="#fff"/>

<rect x="368.80" y="388.75" width="13.9" height="6.20" fill="none" stroke="#7a7a7a" stroke-width="0.75"/>
<text x="386.50" y="394.06"><tspan class="m" font-size="7.70" textLength="28.80" lengthAdjust="spacingAndGlyphs">FCFS_PSO</tspan></text>
<rect x="368.80" y="396.55" width="13.9" height="6.20" fill="#fff"/>
<path d="M368.8,399.1L372.5,396.6M368.8,402.0L376.6,396.6M371.8,402.8L380.7,396.6M375.9,402.8L382.7,398.0M380.0,402.8L382.7,400.9" fill="none" stroke="#000" stroke-opacity="0.34" stroke-width="1.15"/>
<rect x="368.80" y="396.55" width="13.9" height="6.20" fill="none" stroke="#7a7a7a" stroke-width="0.75"/>
<text x="386.50" y="402.19"><tspan class="m" font-size="7.70" textLength="25.20" lengthAdjust="spacingAndGlyphs">SJF_PSO</tspan></text>
<rect x="368.80" y="404.35" width="13.9" height="6.20" fill="#fff"/>
<path d="M368.8,410.3L369.2,410.6M368.8,407.4L373.3,410.6M368.8,404.6L377.4,410.6M372.6,404.4L381.5,410.6M376.7,404.4L382.7,408.5M380.8,404.4L382.7,405.7" fill="none" stroke="#000" stroke-opacity="0.34" stroke-width="1.15"/>
<rect x="368.80" y="404.35" width="13.9" height="6.20" fill="none" stroke="#7a7a7a" stroke-width="0.75"/>
<text x="386.50" y="410.31"><tspan class="m" font-size="7.70" textLength="39.60" lengthAdjust="spacingAndGlyphs">MAX_MAX_PSO</tspan></text>
<rect x="368.80" y="412.15" width="13.9" height="6.20" fill="#fff"/>
<path d="M368.8,414.9L371.9,412.2M369.2,418.4L376.1,412.2M373.4,418.4L380.3,412.2M377.6,418.4L382.7,413.7M381.8,418.4L382.7,417.5" fill="none" stroke="#000" stroke-opacity="0.34" stroke-width="1.15"/><path d="M368.8,417.3L370.0,418.4M368.8,413.5L374.2,418.4M371.5,412.2L378.4,418.4M375.7,412.2L382.6,418.4M379.9,412.2L382.7,414.7" fill="none" stroke="#000" stroke-opacity="0.34" stroke-width="1.15"/>
<rect x="368.80" y="412.15" width="13.9" height="6.20" fill="none" stroke="#7a7a7a" stroke-width="0.75"/>
<text x="386.50" y="418.44"><tspan class="m" font-size="7.70" textLength="10.80" lengthAdjust="spacingAndGlyphs">PSO</tspan></text>
</g>
</svg></body></html>
